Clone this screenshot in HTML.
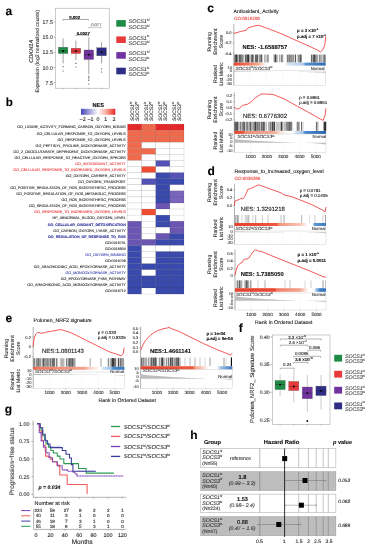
<!DOCTYPE html>
<html><head><meta charset="utf-8"><title>Figure</title>
<style>
html,body{margin:0;padding:0;background:#fff;}
body{width:370px;height:550px;overflow:hidden;}
svg{display:block;font-family:'Liberation Sans', Arial, sans-serif;text-rendering:geometricPrecision;filter:blur(0.25px);}
</style></head><body>
<svg width="370" height="550" viewBox="0 0 370 550">
<rect x="0" y="0" width="370" height="550" fill="#fff"/>
<text x="5.60" y="14.80" font-size="12" font-weight="bold" fill="#000" stroke="#000" stroke-width="0.1">a</text>
<rect x="55.30" y="8.20" width="53.90" height="80.00" fill="none" stroke="#9a9a9a" stroke-width="0.5"/>
<text x="52.90" y="23.90" font-size="5.3" text-anchor="end" fill="#333" stroke="#333" stroke-width="0.1">17.5</text>
<line x1="53.60" y1="22.00" x2="55.30" y2="22.00" stroke="#555" stroke-width="0.4"/>
<text x="52.90" y="39.10" font-size="5.3" text-anchor="end" fill="#333" stroke="#333" stroke-width="0.1">15.0</text>
<line x1="53.60" y1="37.20" x2="55.30" y2="37.20" stroke="#555" stroke-width="0.4"/>
<text x="52.90" y="54.30" font-size="5.3" text-anchor="end" fill="#333" stroke="#333" stroke-width="0.1">12.5</text>
<line x1="53.60" y1="52.40" x2="55.30" y2="52.40" stroke="#555" stroke-width="0.4"/>
<text x="52.90" y="69.50" font-size="5.3" text-anchor="end" fill="#333" stroke="#333" stroke-width="0.1">10.0</text>
<line x1="53.60" y1="67.60" x2="55.30" y2="67.60" stroke="#555" stroke-width="0.4"/>
<text x="52.90" y="84.70" font-size="5.3" text-anchor="end" fill="#333" stroke="#333" stroke-width="0.1">7.5</text>
<line x1="53.60" y1="82.80" x2="55.30" y2="82.80" stroke="#555" stroke-width="0.4"/>
<text x="32.60" y="51.30" font-size="5.7" text-anchor="middle" font-style="italic" fill="#333" transform="rotate(-90 32.6 51.3)" stroke="#333" stroke-width="0.1">CDKN1A</text>
<text x="38.70" y="51.20" font-size="5.1" text-anchor="middle" fill="#333" transform="rotate(-90 38.7 51.2)" stroke="#333" stroke-width="0.1">Expression (log2 normalized counts)</text>
<line x1="63.10" y1="38.50" x2="63.10" y2="47.20" stroke="#8a8a8a" stroke-width="0.8"/>
<line x1="63.10" y1="53.60" x2="63.10" y2="63.40" stroke="#8a8a8a" stroke-width="0.8"/>
<rect x="58.30" y="47.20" width="9.60" height="6.40" fill="#1e8c46" stroke="#555" stroke-width="0.3"/>
<line x1="58.30" y1="51.00" x2="67.90" y2="51.00" stroke="#222" stroke-width="0.4"/>
<circle cx="63.10" cy="51.00" r="0.9" fill="#000"/>
<circle cx="63.10" cy="66.60" r="0.6" fill="#444"/>
<circle cx="63.10" cy="71.00" r="0.6" fill="#444"/>
<line x1="63.10" y1="88.20" x2="63.10" y2="89.50" stroke="#777" stroke-width="0.4"/>
<line x1="75.90" y1="40.70" x2="75.90" y2="48.20" stroke="#8a8a8a" stroke-width="0.8"/>
<line x1="75.90" y1="53.60" x2="75.90" y2="60.00" stroke="#8a8a8a" stroke-width="0.8"/>
<rect x="71.10" y="48.20" width="9.60" height="5.40" fill="#e83a3c" stroke="#555" stroke-width="0.3"/>
<line x1="71.10" y1="51.00" x2="80.70" y2="51.00" stroke="#222" stroke-width="0.4"/>
<circle cx="75.90" cy="51.00" r="0.9" fill="#000"/>
<circle cx="75.90" cy="63.40" r="0.6" fill="#444"/>
<circle cx="75.90" cy="67.00" r="0.6" fill="#444"/>
<line x1="75.90" y1="88.20" x2="75.90" y2="89.50" stroke="#777" stroke-width="0.4"/>
<line x1="88.80" y1="37.40" x2="88.80" y2="50.00" stroke="#8a8a8a" stroke-width="0.8"/>
<line x1="88.80" y1="59.50" x2="88.80" y2="74.20" stroke="#8a8a8a" stroke-width="0.8"/>
<rect x="84.00" y="50.00" width="9.60" height="9.50" fill="#7033a0" stroke="#555" stroke-width="0.3"/>
<line x1="84.00" y1="54.70" x2="93.60" y2="54.70" stroke="#222" stroke-width="0.4"/>
<circle cx="88.80" cy="54.70" r="0.9" fill="#000"/>
<circle cx="88.80" cy="76.00" r="0.6" fill="#444"/>
<circle cx="88.80" cy="77.50" r="0.6" fill="#444"/>
<circle cx="88.80" cy="79.00" r="0.6" fill="#444"/>
<circle cx="88.80" cy="80.50" r="0.6" fill="#444"/>
<circle cx="88.80" cy="84.00" r="0.6" fill="#444"/>
<line x1="88.80" y1="88.20" x2="88.80" y2="89.50" stroke="#777" stroke-width="0.4"/>
<line x1="101.60" y1="42.20" x2="101.60" y2="47.80" stroke="#8a8a8a" stroke-width="0.8"/>
<line x1="101.60" y1="55.80" x2="101.60" y2="63.40" stroke="#8a8a8a" stroke-width="0.8"/>
<rect x="96.80" y="47.80" width="9.60" height="8.00" fill="#2e2d86" stroke="#555" stroke-width="0.3"/>
<line x1="96.80" y1="52.10" x2="106.40" y2="52.10" stroke="#222" stroke-width="0.4"/>
<circle cx="101.60" cy="52.10" r="0.9" fill="#000"/>
<circle cx="101.60" cy="68.80" r="0.6" fill="#444"/>
<circle cx="101.60" cy="72.00" r="0.6" fill="#444"/>
<line x1="101.60" y1="88.20" x2="101.60" y2="89.50" stroke="#777" stroke-width="0.4"/>
<path d="M63.00,20.70 L63.00,19.50 L88.40,19.50 L88.40,20.70" stroke="#444" stroke-width="0.45" fill="none"/>
<text x="74.70" y="19.00" font-size="4.4" text-anchor="middle" font-weight="bold" fill="#000" stroke="#000" stroke-width="0.1">0.002</text>
<path d="M76.00,36.20 L76.00,35.00 L88.40,35.00 L88.40,36.20" stroke="#444" stroke-width="0.45" fill="none"/>
<text x="83.30" y="34.50" font-size="4.3" text-anchor="middle" font-weight="bold" fill="#000" stroke="#000" stroke-width="0.1">0.0027</text>
<path d="M88.80,28.50 L88.80,27.30 L101.20,27.30 L101.20,28.50" stroke="#777" stroke-width="0.45" fill="none"/>
<text x="96.30" y="26.20" font-size="4.1" text-anchor="middle" fill="#666" stroke="#666" stroke-width="0.1">0.077</text>
<rect x="116.30" y="20.10" width="9.50" height="6.60" fill="#1e8c46" stroke="none" stroke-width="0.5"/>
<text x="128.60" y="23.20" font-size="5.4" font-style="italic" fill="#484848" stroke="#484848" stroke-width="0.1">SOCS1<tspan font-size="3.24" dy="-2.16">hi</tspan></text>
<text x="128.60" y="28.70" font-size="5.4" font-style="italic" fill="#484848" stroke="#484848" stroke-width="0.1">SOCS3<tspan font-size="3.24" dy="-2.16">hi</tspan></text>
<rect x="116.30" y="36.40" width="9.50" height="6.60" fill="#e83a3c" stroke="none" stroke-width="0.5"/>
<text x="128.60" y="39.50" font-size="5.4" font-style="italic" fill="#484848" stroke="#484848" stroke-width="0.1">SOCS1<tspan font-size="3.24" dy="-2.16">lo</tspan></text>
<text x="128.60" y="45.00" font-size="5.4" font-style="italic" fill="#484848" stroke="#484848" stroke-width="0.1">SOCS3<tspan font-size="3.24" dy="-2.16">hi</tspan></text>
<rect x="116.30" y="52.10" width="9.50" height="6.60" fill="#7033a0" stroke="none" stroke-width="0.5"/>
<text x="128.60" y="55.20" font-size="5.4" font-style="italic" fill="#484848" stroke="#484848" stroke-width="0.1">SOCS1<tspan font-size="3.24" dy="-2.16">hi</tspan></text>
<text x="128.60" y="60.70" font-size="5.4" font-style="italic" fill="#484848" stroke="#484848" stroke-width="0.1">SOCS3<tspan font-size="3.24" dy="-2.16">lo</tspan></text>
<rect x="116.30" y="67.70" width="9.50" height="6.60" fill="#2e2d86" stroke="none" stroke-width="0.5"/>
<text x="128.60" y="70.80" font-size="5.4" font-style="italic" fill="#484848" stroke="#484848" stroke-width="0.1">SOCS1<tspan font-size="3.24" dy="-2.16">lo</tspan></text>
<text x="128.60" y="76.30" font-size="5.4" font-style="italic" fill="#484848" stroke="#484848" stroke-width="0.1">SOCS3<tspan font-size="3.24" dy="-2.16">lo</tspan></text>
<text x="5.80" y="105.80" font-size="11.6" font-weight="bold" fill="#000" stroke="#000" stroke-width="0.1">b</text>
<text x="98.30" y="106.60" font-size="5.6" text-anchor="middle" font-weight="bold" fill="#000" stroke="#000" stroke-width="0.1">NES</text>
<defs><linearGradient id="nesg" x1="0" x2="1" y1="0" y2="0"><stop offset="0" stop-color="#4446b8"/><stop offset="0.25" stop-color="#a6a2da"/><stop offset="0.5" stop-color="#ffffff"/><stop offset="0.75" stop-color="#f7a494"/><stop offset="1" stop-color="#e8262a"/></linearGradient></defs>
<rect x="81.00" y="108.80" width="34.30" height="6.00" fill="url(#nesg)" stroke="none" stroke-width="0.5"/>
<text x="82.60" y="120.80" font-size="5.3" text-anchor="middle" fill="#222" stroke="#222" stroke-width="0.1">−2</text>
<text x="90.40" y="120.80" font-size="5.3" text-anchor="middle" fill="#222" stroke="#222" stroke-width="0.1">−1</text>
<text x="97.90" y="120.80" font-size="5.3" text-anchor="middle" fill="#222" stroke="#222" stroke-width="0.1">0</text>
<text x="105.80" y="120.80" font-size="5.3" text-anchor="middle" fill="#222" stroke="#222" stroke-width="0.1">1</text>
<text x="113.90" y="120.80" font-size="5.3" text-anchor="middle" fill="#222" stroke="#222" stroke-width="0.1">2</text>
<text x="133.90" y="121.10" font-size="5" font-style="italic" fill="#333" transform="rotate(-90 133.90 121.10)" stroke="#333" stroke-width="0.1">SOCS1<tspan font-size="3.1" dy="-2.0">hi</tspan></text>
<text x="139.10" y="121.10" font-size="5" font-style="italic" fill="#333" transform="rotate(-90 139.10 121.10)" stroke="#333" stroke-width="0.1">SOCS3<tspan font-size="3.1" dy="-2.0">hi</tspan></text>
<text x="148.00" y="121.10" font-size="5" font-style="italic" fill="#333" transform="rotate(-90 148.00 121.10)" stroke="#333" stroke-width="0.1">SOCS1<tspan font-size="3.1" dy="-2.0">lo</tspan></text>
<text x="153.20" y="121.10" font-size="5" font-style="italic" fill="#333" transform="rotate(-90 153.20 121.10)" stroke="#333" stroke-width="0.1">SOCS3<tspan font-size="3.1" dy="-2.0">hi</tspan></text>
<text x="162.10" y="121.10" font-size="5" font-style="italic" fill="#333" transform="rotate(-90 162.10 121.10)" stroke="#333" stroke-width="0.1">SOCS1<tspan font-size="3.1" dy="-2.0">hi</tspan></text>
<text x="167.30" y="121.10" font-size="5" font-style="italic" fill="#333" transform="rotate(-90 167.30 121.10)" stroke="#333" stroke-width="0.1">SOCS3<tspan font-size="3.1" dy="-2.0">lo</tspan></text>
<text x="176.20" y="121.10" font-size="5" font-style="italic" fill="#333" transform="rotate(-90 176.20 121.10)" stroke="#333" stroke-width="0.1">SOCS1<tspan font-size="3.1" dy="-2.0">lo</tspan></text>
<text x="181.40" y="121.10" font-size="5" font-style="italic" fill="#333" transform="rotate(-90 181.40 121.10)" stroke="#333" stroke-width="0.1">SOCS3<tspan font-size="3.1" dy="-2.0">lo</tspan></text>
<text x="125.80" y="128.44" font-size="3.65" text-anchor="end" fill="#2a2a2a" stroke="#2a2a2a" stroke-width="0.1">GO_LIGASE_ACTIVITY_FORMING_CARBON_OXYGEN_BONDS</text>
<rect x="127.60" y="124.10" width="14.10" height="6.07" fill="#e3282a" stroke="#000" stroke-width="0.4" stroke-opacity="0.2"/>
<rect x="141.70" y="124.10" width="14.10" height="6.07" fill="#ef6a4c" stroke="#000" stroke-width="0.4" stroke-opacity="0.2"/>
<rect x="155.80" y="124.10" width="14.10" height="6.07" fill="#e3282a" stroke="#000" stroke-width="0.4" stroke-opacity="0.2"/>
<rect x="169.90" y="124.10" width="14.10" height="6.07" fill="#e3282a" stroke="#000" stroke-width="0.4" stroke-opacity="0.2"/>
<text x="125.80" y="134.50" font-size="3.65" text-anchor="end" fill="#2a2a2a" stroke="#2a2a2a" stroke-width="0.1">GO_CELLULAR_RESPONSE_TO_OXYGEN_LEVELS</text>
<rect x="127.60" y="130.17" width="14.10" height="6.07" fill="#ef6a4c" stroke="#000" stroke-width="0.4" stroke-opacity="0.2"/>
<rect x="141.70" y="130.17" width="14.10" height="6.07" fill="#ef6a4c" stroke="#000" stroke-width="0.4" stroke-opacity="0.2"/>
<rect x="155.80" y="130.17" width="14.10" height="6.07" fill="#ef6a4c" stroke="#000" stroke-width="0.4" stroke-opacity="0.2"/>
<rect x="169.90" y="130.17" width="14.10" height="6.07" fill="#ef6a4c" stroke="#000" stroke-width="0.4" stroke-opacity="0.2"/>
<text x="125.80" y="140.58" font-size="3.65" text-anchor="end" fill="#2a2a2a" stroke="#2a2a2a" stroke-width="0.1">GO_RESPONSE_TO_OXYGEN_LEVELS</text>
<rect x="127.60" y="136.24" width="14.10" height="6.07" fill="#ef6a4c" stroke="#000" stroke-width="0.4" stroke-opacity="0.2"/>
<rect x="141.70" y="136.24" width="14.10" height="6.07" fill="#ef6a4c" stroke="#000" stroke-width="0.4" stroke-opacity="0.2"/>
<rect x="155.80" y="136.24" width="14.10" height="6.07" fill="#ef6a4c" stroke="#000" stroke-width="0.4" stroke-opacity="0.2"/>
<rect x="169.90" y="136.24" width="14.10" height="6.07" fill="#ef6a4c" stroke="#000" stroke-width="0.4" stroke-opacity="0.2"/>
<text x="125.80" y="146.65" font-size="3.65" text-anchor="end" fill="#2a2a2a" stroke="#2a2a2a" stroke-width="0.1">GO_PEPTIDYL_PROLINE_DIOXYGENASE_ACTIVITY</text>
<rect x="127.60" y="142.31" width="14.10" height="6.07" fill="#ef6a4c" stroke="#000" stroke-width="0.4" stroke-opacity="0.2"/>
<rect x="141.70" y="142.31" width="14.10" height="6.07" fill="#ffffff" stroke="#000" stroke-width="0.4" stroke-opacity="0.2"/>
<rect x="155.80" y="142.31" width="14.10" height="6.07" fill="#ffffff" stroke="#000" stroke-width="0.4" stroke-opacity="0.2"/>
<rect x="169.90" y="142.31" width="14.10" height="6.07" fill="#ffffff" stroke="#000" stroke-width="0.4" stroke-opacity="0.2"/>
<text x="125.80" y="152.72" font-size="3.65" text-anchor="end" fill="#2a2a2a" stroke="#2a2a2a" stroke-width="0.1">GO_2_OXOGLUTARATE_DEPENDENT_DIOXYGENASE_ACTIVITY</text>
<rect x="127.60" y="148.38" width="14.10" height="6.07" fill="#ef6a4c" stroke="#000" stroke-width="0.4" stroke-opacity="0.2"/>
<rect x="141.70" y="148.38" width="14.10" height="6.07" fill="#ef6a4c" stroke="#000" stroke-width="0.4" stroke-opacity="0.2"/>
<rect x="155.80" y="148.38" width="14.10" height="6.07" fill="#ffffff" stroke="#000" stroke-width="0.4" stroke-opacity="0.2"/>
<rect x="169.90" y="148.38" width="14.10" height="6.07" fill="#ffffff" stroke="#000" stroke-width="0.4" stroke-opacity="0.2"/>
<text x="125.80" y="158.79" font-size="3.65" text-anchor="end" fill="#2a2a2a" stroke="#2a2a2a" stroke-width="0.1">GO_CELLULAR_RESPONSE_TO_REACTIVE_OXYGEN_SPECIES</text>
<rect x="127.60" y="154.45" width="14.10" height="6.07" fill="#ef6a4c" stroke="#000" stroke-width="0.4" stroke-opacity="0.2"/>
<rect x="141.70" y="154.45" width="14.10" height="6.07" fill="#ffffff" stroke="#000" stroke-width="0.4" stroke-opacity="0.2"/>
<rect x="155.80" y="154.45" width="14.10" height="6.07" fill="#ffffff" stroke="#000" stroke-width="0.4" stroke-opacity="0.2"/>
<rect x="169.90" y="154.45" width="14.10" height="6.07" fill="#ffffff" stroke="#000" stroke-width="0.4" stroke-opacity="0.2"/>
<text x="125.80" y="164.86" font-size="3.65" text-anchor="end" fill="#e8383a" stroke="#e8383a" stroke-width="0.1">GO_ANTIOXIDANT_ACTIVITY</text>
<rect x="127.60" y="160.52" width="14.10" height="6.07" fill="#ffffff" stroke="#000" stroke-width="0.4" stroke-opacity="0.2"/>
<rect x="141.70" y="160.52" width="14.10" height="6.07" fill="#ffffff" stroke="#000" stroke-width="0.4" stroke-opacity="0.2"/>
<rect x="155.80" y="160.52" width="14.10" height="6.07" fill="#5452b4" stroke="#000" stroke-width="0.4" stroke-opacity="0.2"/>
<rect x="169.90" y="160.52" width="14.10" height="6.07" fill="#ffffff" stroke="#000" stroke-width="0.4" stroke-opacity="0.2"/>
<text x="125.80" y="170.93" font-size="3.65" text-anchor="end" fill="#e8383a" stroke="#e8383a" stroke-width="0.1">GO_CELLULAR_RESPONSE_TO_INCREASED_OXYGEN_LEVELS</text>
<rect x="127.60" y="166.59" width="14.10" height="6.07" fill="#ffffff" stroke="#000" stroke-width="0.4" stroke-opacity="0.2"/>
<rect x="141.70" y="166.59" width="14.10" height="6.07" fill="#ee4b30" stroke="#000" stroke-width="0.4" stroke-opacity="0.2"/>
<rect x="155.80" y="166.59" width="14.10" height="6.07" fill="#ffffff" stroke="#000" stroke-width="0.4" stroke-opacity="0.2"/>
<rect x="169.90" y="166.59" width="14.10" height="6.07" fill="#ffffff" stroke="#000" stroke-width="0.4" stroke-opacity="0.2"/>
<text x="125.80" y="177.00" font-size="3.65" text-anchor="end" fill="#2a2a2a" stroke="#2a2a2a" stroke-width="0.1">GO_OXYGEN_CARRIER_ACTIVITY</text>
<rect x="127.60" y="172.66" width="14.10" height="6.07" fill="#ffffff" stroke="#000" stroke-width="0.4" stroke-opacity="0.2"/>
<rect x="141.70" y="172.66" width="14.10" height="6.07" fill="#ffffff" stroke="#000" stroke-width="0.4" stroke-opacity="0.2"/>
<rect x="155.80" y="172.66" width="14.10" height="6.07" fill="#3a4aac" stroke="#000" stroke-width="0.4" stroke-opacity="0.2"/>
<rect x="169.90" y="172.66" width="14.10" height="6.07" fill="#5452b4" stroke="#000" stroke-width="0.4" stroke-opacity="0.2"/>
<text x="125.80" y="183.06" font-size="3.65" text-anchor="end" fill="#2a2a2a" stroke="#2a2a2a" stroke-width="0.1">GO_OXYGEN_TRANSPORT</text>
<rect x="127.60" y="178.73" width="14.10" height="6.07" fill="#ffffff" stroke="#000" stroke-width="0.4" stroke-opacity="0.2"/>
<rect x="141.70" y="178.73" width="14.10" height="6.07" fill="#5452b4" stroke="#000" stroke-width="0.4" stroke-opacity="0.2"/>
<rect x="155.80" y="178.73" width="14.10" height="6.07" fill="#3a4aac" stroke="#000" stroke-width="0.4" stroke-opacity="0.2"/>
<rect x="169.90" y="178.73" width="14.10" height="6.07" fill="#3a4aac" stroke="#000" stroke-width="0.4" stroke-opacity="0.2"/>
<text x="125.80" y="189.13" font-size="3.65" text-anchor="end" fill="#2a2a2a" stroke="#2a2a2a" stroke-width="0.1">GO_POSITIVE_REGULATION_OF_ROS_BIOSYNTHETIC_PROCESS</text>
<rect x="127.60" y="184.80" width="14.10" height="6.07" fill="#ffffff" stroke="#000" stroke-width="0.4" stroke-opacity="0.2"/>
<rect x="141.70" y="184.80" width="14.10" height="6.07" fill="#ffffff" stroke="#000" stroke-width="0.4" stroke-opacity="0.2"/>
<rect x="155.80" y="184.80" width="14.10" height="6.07" fill="#3a4aac" stroke="#000" stroke-width="0.4" stroke-opacity="0.2"/>
<rect x="169.90" y="184.80" width="14.10" height="6.07" fill="#ffffff" stroke="#000" stroke-width="0.4" stroke-opacity="0.2"/>
<text x="125.80" y="195.21" font-size="3.65" text-anchor="end" fill="#2a2a2a" stroke="#2a2a2a" stroke-width="0.1">GO_POSITIVE_REGULATION_OF_ROS_METABOLIC_PROCESS</text>
<rect x="127.60" y="190.87" width="14.10" height="6.07" fill="#ffffff" stroke="#000" stroke-width="0.4" stroke-opacity="0.2"/>
<rect x="141.70" y="190.87" width="14.10" height="6.07" fill="#ffffff" stroke="#000" stroke-width="0.4" stroke-opacity="0.2"/>
<rect x="155.80" y="190.87" width="14.10" height="6.07" fill="#3a4aac" stroke="#000" stroke-width="0.4" stroke-opacity="0.2"/>
<rect x="169.90" y="190.87" width="14.10" height="6.07" fill="#7a66bc" stroke="#000" stroke-width="0.4" stroke-opacity="0.2"/>
<text x="125.80" y="201.28" font-size="3.65" text-anchor="end" fill="#2a2a2a" stroke="#2a2a2a" stroke-width="0.1">GO_ROS_BIOSYNTHETIC_PROCESS</text>
<rect x="127.60" y="196.94" width="14.10" height="6.07" fill="#ffffff" stroke="#000" stroke-width="0.4" stroke-opacity="0.2"/>
<rect x="141.70" y="196.94" width="14.10" height="6.07" fill="#ffffff" stroke="#000" stroke-width="0.4" stroke-opacity="0.2"/>
<rect x="155.80" y="196.94" width="14.10" height="6.07" fill="#3a4aac" stroke="#000" stroke-width="0.4" stroke-opacity="0.2"/>
<rect x="169.90" y="196.94" width="14.10" height="6.07" fill="#7a66bc" stroke="#000" stroke-width="0.4" stroke-opacity="0.2"/>
<text x="125.80" y="207.35" font-size="3.65" text-anchor="end" fill="#2a2a2a" stroke="#2a2a2a" stroke-width="0.1">GO_REGULATION_OF_ROS_BIOSYNTHETIC_PROCESS</text>
<rect x="127.60" y="203.01" width="14.10" height="6.07" fill="#ffffff" stroke="#000" stroke-width="0.4" stroke-opacity="0.2"/>
<rect x="141.70" y="203.01" width="14.10" height="6.07" fill="#ffffff" stroke="#000" stroke-width="0.4" stroke-opacity="0.2"/>
<rect x="155.80" y="203.01" width="14.10" height="6.07" fill="#6a55b2" stroke="#000" stroke-width="0.4" stroke-opacity="0.2"/>
<rect x="169.90" y="203.01" width="14.10" height="6.07" fill="#ffffff" stroke="#000" stroke-width="0.4" stroke-opacity="0.2"/>
<text x="125.80" y="213.42" font-size="3.65" text-anchor="end" fill="#e8383a" stroke="#e8383a" stroke-width="0.1">GO_RESPONSE_TO_INCREASED_OXYGEN_LEVELS</text>
<rect x="127.60" y="209.08" width="14.10" height="6.07" fill="#ffffff" stroke="#000" stroke-width="0.4" stroke-opacity="0.2"/>
<rect x="141.70" y="209.08" width="14.10" height="6.07" fill="#ee4b30" stroke="#000" stroke-width="0.4" stroke-opacity="0.2"/>
<rect x="155.80" y="209.08" width="14.10" height="6.07" fill="#ffffff" stroke="#000" stroke-width="0.4" stroke-opacity="0.2"/>
<rect x="169.90" y="209.08" width="14.10" height="6.07" fill="#ffffff" stroke="#000" stroke-width="0.4" stroke-opacity="0.2"/>
<text x="125.80" y="219.49" font-size="3.65" text-anchor="end" fill="#2a2a2a" stroke="#2a2a2a" stroke-width="0.1">HP_ABNORMAL_BLOOD_OXYGEN_LEVEL</text>
<rect x="127.60" y="215.15" width="14.10" height="6.07" fill="#ffffff" stroke="#000" stroke-width="0.4" stroke-opacity="0.2"/>
<rect x="141.70" y="215.15" width="14.10" height="6.07" fill="#ffffff" stroke="#000" stroke-width="0.4" stroke-opacity="0.2"/>
<rect x="155.80" y="215.15" width="14.10" height="6.07" fill="#3a4aac" stroke="#000" stroke-width="0.4" stroke-opacity="0.2"/>
<rect x="169.90" y="215.15" width="14.10" height="6.07" fill="#ffffff" stroke="#000" stroke-width="0.4" stroke-opacity="0.2"/>
<text x="125.80" y="225.56" font-size="3.65" text-anchor="end" font-weight="bold" fill="#2b2f9a" stroke="#2b2f9a" stroke-width="0.1">GO_CELLULAR_OXIDANT_DETOXIFICATION</text>
<rect x="127.60" y="221.22" width="14.10" height="6.07" fill="#6a55b2" stroke="#000" stroke-width="0.4" stroke-opacity="0.2"/>
<rect x="141.70" y="221.22" width="14.10" height="6.07" fill="#ffffff" stroke="#000" stroke-width="0.4" stroke-opacity="0.2"/>
<rect x="155.80" y="221.22" width="14.10" height="6.07" fill="#3a4aac" stroke="#000" stroke-width="0.4" stroke-opacity="0.2"/>
<rect x="169.90" y="221.22" width="14.10" height="6.07" fill="#6a55b2" stroke="#000" stroke-width="0.4" stroke-opacity="0.2"/>
<text x="125.80" y="231.62" font-size="3.65" text-anchor="end" fill="#2a2a2a" stroke="#2a2a2a" stroke-width="0.1">GO_CARBON_OXYGEN_LYASE_ACTIVITY</text>
<rect x="127.60" y="227.29" width="14.10" height="6.07" fill="#6a55b2" stroke="#000" stroke-width="0.4" stroke-opacity="0.2"/>
<rect x="141.70" y="227.29" width="14.10" height="6.07" fill="#ffffff" stroke="#000" stroke-width="0.4" stroke-opacity="0.2"/>
<rect x="155.80" y="227.29" width="14.10" height="6.07" fill="#ffffff" stroke="#000" stroke-width="0.4" stroke-opacity="0.2"/>
<rect x="169.90" y="227.29" width="14.10" height="6.07" fill="#6a55b2" stroke="#000" stroke-width="0.4" stroke-opacity="0.2"/>
<text x="125.80" y="237.69" font-size="3.65" text-anchor="end" font-weight="bold" fill="#2b2f9a" stroke="#2b2f9a" stroke-width="0.1">GO_REGULATION_OF_RESPONSE_TO_ROS</text>
<rect x="127.60" y="233.36" width="14.10" height="6.07" fill="#6a55b2" stroke="#000" stroke-width="0.4" stroke-opacity="0.2"/>
<rect x="141.70" y="233.36" width="14.10" height="6.07" fill="#ffffff" stroke="#000" stroke-width="0.4" stroke-opacity="0.2"/>
<rect x="155.80" y="233.36" width="14.10" height="6.07" fill="#6a55b2" stroke="#000" stroke-width="0.4" stroke-opacity="0.2"/>
<rect x="169.90" y="233.36" width="14.10" height="6.07" fill="#3a4aac" stroke="#000" stroke-width="0.4" stroke-opacity="0.2"/>
<text x="125.80" y="243.77" font-size="3.65" text-anchor="end" fill="#2a2a2a" stroke="#2a2a2a" stroke-width="0.1">GO:0016701</text>
<rect x="127.60" y="239.43" width="14.10" height="6.07" fill="#6a55b2" stroke="#000" stroke-width="0.4" stroke-opacity="0.2"/>
<rect x="141.70" y="239.43" width="14.10" height="6.07" fill="#6a55b2" stroke="#000" stroke-width="0.4" stroke-opacity="0.2"/>
<rect x="155.80" y="239.43" width="14.10" height="6.07" fill="#3a4aac" stroke="#000" stroke-width="0.4" stroke-opacity="0.2"/>
<rect x="169.90" y="239.43" width="14.10" height="6.07" fill="#3a4aac" stroke="#000" stroke-width="0.4" stroke-opacity="0.2"/>
<text x="125.80" y="249.84" font-size="3.65" text-anchor="end" fill="#2a2a2a" stroke="#2a2a2a" stroke-width="0.1">GO:0016804</text>
<rect x="127.60" y="245.50" width="14.10" height="6.07" fill="#3a4aac" stroke="#000" stroke-width="0.4" stroke-opacity="0.2"/>
<rect x="141.70" y="245.50" width="14.10" height="6.07" fill="#ffffff" stroke="#000" stroke-width="0.4" stroke-opacity="0.2"/>
<rect x="155.80" y="245.50" width="14.10" height="6.07" fill="#ffffff" stroke="#000" stroke-width="0.4" stroke-opacity="0.2"/>
<rect x="169.90" y="245.50" width="14.10" height="6.07" fill="#ffffff" stroke="#000" stroke-width="0.4" stroke-opacity="0.2"/>
<text x="125.80" y="255.91" font-size="3.65" text-anchor="end" fill="#3d44b0" stroke="#3d44b0" stroke-width="0.1">GO_OXYGEN_BINDING</text>
<rect x="127.60" y="251.57" width="14.10" height="6.07" fill="#3a4aac" stroke="#000" stroke-width="0.4" stroke-opacity="0.2"/>
<rect x="141.70" y="251.57" width="14.10" height="6.07" fill="#ffffff" stroke="#000" stroke-width="0.4" stroke-opacity="0.2"/>
<rect x="155.80" y="251.57" width="14.10" height="6.07" fill="#3a4aac" stroke="#000" stroke-width="0.4" stroke-opacity="0.2"/>
<rect x="169.90" y="251.57" width="14.10" height="6.07" fill="#3a4aac" stroke="#000" stroke-width="0.4" stroke-opacity="0.2"/>
<text x="125.80" y="261.98" font-size="3.65" text-anchor="end" fill="#2a2a2a" stroke="#2a2a2a" stroke-width="0.1">GO:0016709</text>
<rect x="127.60" y="257.64" width="14.10" height="6.07" fill="#3a4aac" stroke="#000" stroke-width="0.4" stroke-opacity="0.2"/>
<rect x="141.70" y="257.64" width="14.10" height="6.07" fill="#ffffff" stroke="#000" stroke-width="0.4" stroke-opacity="0.2"/>
<rect x="155.80" y="257.64" width="14.10" height="6.07" fill="#3a4aac" stroke="#000" stroke-width="0.4" stroke-opacity="0.2"/>
<rect x="169.90" y="257.64" width="14.10" height="6.07" fill="#3a4aac" stroke="#000" stroke-width="0.4" stroke-opacity="0.2"/>
<text x="125.80" y="268.05" font-size="3.65" text-anchor="end" fill="#2a2a2a" stroke="#2a2a2a" stroke-width="0.1">GO_ARACHIDONIC_ACID_EPOXYGENASE_ACTIVITY</text>
<rect x="127.60" y="263.71" width="14.10" height="6.07" fill="#3a4aac" stroke="#000" stroke-width="0.4" stroke-opacity="0.2"/>
<rect x="141.70" y="263.71" width="14.10" height="6.07" fill="#3a4aac" stroke="#000" stroke-width="0.4" stroke-opacity="0.2"/>
<rect x="155.80" y="263.71" width="14.10" height="6.07" fill="#3a4aac" stroke="#000" stroke-width="0.4" stroke-opacity="0.2"/>
<rect x="169.90" y="263.71" width="14.10" height="6.07" fill="#3a4aac" stroke="#000" stroke-width="0.4" stroke-opacity="0.2"/>
<text x="125.80" y="274.12" font-size="3.65" text-anchor="end" fill="#3d44b0" stroke="#3d44b0" stroke-width="0.1">GO_MONOOXYGENASE_ACTIVITY</text>
<rect x="127.60" y="269.78" width="14.10" height="6.07" fill="#3a4aac" stroke="#000" stroke-width="0.4" stroke-opacity="0.2"/>
<rect x="141.70" y="269.78" width="14.10" height="6.07" fill="#ffffff" stroke="#000" stroke-width="0.4" stroke-opacity="0.2"/>
<rect x="155.80" y="269.78" width="14.10" height="6.07" fill="#3a4aac" stroke="#000" stroke-width="0.4" stroke-opacity="0.2"/>
<rect x="169.90" y="269.78" width="14.10" height="6.07" fill="#3a4aac" stroke="#000" stroke-width="0.4" stroke-opacity="0.2"/>
<text x="125.80" y="280.19" font-size="3.65" text-anchor="end" fill="#2a2a2a" stroke="#2a2a2a" stroke-width="0.1">GO_EPOXYGENASE_P450_PATHWAY</text>
<rect x="127.60" y="275.85" width="14.10" height="6.07" fill="#3a4aac" stroke="#000" stroke-width="0.4" stroke-opacity="0.2"/>
<rect x="141.70" y="275.85" width="14.10" height="6.07" fill="#3a4aac" stroke="#000" stroke-width="0.4" stroke-opacity="0.2"/>
<rect x="155.80" y="275.85" width="14.10" height="6.07" fill="#3a4aac" stroke="#000" stroke-width="0.4" stroke-opacity="0.2"/>
<rect x="169.90" y="275.85" width="14.10" height="6.07" fill="#3a4aac" stroke="#000" stroke-width="0.4" stroke-opacity="0.2"/>
<text x="125.80" y="286.26" font-size="3.65" text-anchor="end" fill="#2a2a2a" stroke="#2a2a2a" stroke-width="0.1">GO_ARACHIDONIC_ACID_MONOOXYGENASE_ACTIVITY</text>
<rect x="127.60" y="281.92" width="14.10" height="6.07" fill="#3a4aac" stroke="#000" stroke-width="0.4" stroke-opacity="0.2"/>
<rect x="141.70" y="281.92" width="14.10" height="6.07" fill="#3a4aac" stroke="#000" stroke-width="0.4" stroke-opacity="0.2"/>
<rect x="155.80" y="281.92" width="14.10" height="6.07" fill="#3a4aac" stroke="#000" stroke-width="0.4" stroke-opacity="0.2"/>
<rect x="169.90" y="281.92" width="14.10" height="6.07" fill="#3a4aac" stroke="#000" stroke-width="0.4" stroke-opacity="0.2"/>
<text x="125.80" y="292.32" font-size="3.65" text-anchor="end" fill="#2a2a2a" stroke="#2a2a2a" stroke-width="0.1">GO:0016712</text>
<rect x="127.60" y="287.99" width="14.10" height="6.07" fill="#3a4aac" stroke="#000" stroke-width="0.4" stroke-opacity="0.2"/>
<rect x="141.70" y="287.99" width="14.10" height="6.07" fill="#ffffff" stroke="#000" stroke-width="0.4" stroke-opacity="0.2"/>
<rect x="155.80" y="287.99" width="14.10" height="6.07" fill="#3a4aac" stroke="#000" stroke-width="0.4" stroke-opacity="0.2"/>
<rect x="169.90" y="287.99" width="14.10" height="6.07" fill="#3a4aac" stroke="#000" stroke-width="0.4" stroke-opacity="0.2"/>
<line x1="233.80" y1="24.00" x2="233.80" y2="85.30" stroke="#555" stroke-width="0.45"/>
<text x="231.50" y="33.80" font-size="4.0" text-anchor="end" fill="#333" stroke="#333" stroke-width="0.1">0.0</text>
<line x1="232.50" y1="32.50" x2="233.80" y2="32.50" stroke="#555" stroke-width="0.35"/>
<text x="231.50" y="44.30" font-size="4.0" text-anchor="end" fill="#333" stroke="#333" stroke-width="0.1">-0.2</text>
<line x1="232.50" y1="43.00" x2="233.80" y2="43.00" stroke="#555" stroke-width="0.35"/>
<text x="231.50" y="54.70" font-size="4.0" text-anchor="end" fill="#333" stroke="#333" stroke-width="0.1">-0.4</text>
<line x1="232.50" y1="53.40" x2="233.80" y2="53.40" stroke="#555" stroke-width="0.35"/>
<path d="M233.80,33.50 L240.80,31.40 L246.20,30.30 L247.60,28.10 L251.60,26.80 L257.00,25.40 L259.20,25.40 L270.50,29.50 L284.00,34.90 L297.60,41.10 L311.00,47.00 L317.80,50.30 L320.50,51.90 L322.40,50.30 L324.60,45.70 L325.40,40.00 L325.70,36.20" stroke="#ee3b3b" stroke-width="0.85" fill="none"/>
<text x="242.50" y="49.10" font-size="5.8" font-weight="bold" fill="#111" stroke="#111" stroke-width="0.1">NES: -1.6588757</text>
<text x="297.00" y="31.60" font-size="4.4" font-weight="bold" fill="#111" stroke="#111" stroke-width="0.1">p = 3 ×10<tspan font-size="2.6" dy="-1.7">-4</tspan></text>
<text x="297.00" y="37.80" font-size="4.4" font-weight="bold" fill="#111" stroke="#111" stroke-width="0.1"><tspan dy="0">p.adj = 7 ×10</tspan><tspan font-size="2.6" dy="-1.7">-4</tspan></text>
<line x1="234.51" y1="54.60" x2="234.51" y2="62.50" stroke="#000" stroke-width="0.45" stroke-opacity="0.57"/>
<line x1="234.91" y1="54.60" x2="234.91" y2="62.50" stroke="#000" stroke-width="0.45" stroke-opacity="0.64"/>
<line x1="235.33" y1="54.60" x2="235.33" y2="62.50" stroke="#000" stroke-width="0.45" stroke-opacity="0.85"/>
<line x1="235.65" y1="54.60" x2="235.65" y2="62.50" stroke="#000" stroke-width="0.45" stroke-opacity="0.58"/>
<line x1="236.14" y1="54.60" x2="236.14" y2="62.50" stroke="#000" stroke-width="0.45" stroke-opacity="0.60"/>
<line x1="236.15" y1="54.60" x2="236.15" y2="62.50" stroke="#000" stroke-width="0.45" stroke-opacity="0.65"/>
<line x1="236.43" y1="54.60" x2="236.43" y2="62.50" stroke="#000" stroke-width="0.45" stroke-opacity="0.41"/>
<line x1="236.51" y1="54.60" x2="236.51" y2="62.50" stroke="#000" stroke-width="0.45" stroke-opacity="0.61"/>
<line x1="236.90" y1="54.60" x2="236.90" y2="62.50" stroke="#000" stroke-width="0.45" stroke-opacity="0.68"/>
<line x1="236.99" y1="54.60" x2="236.99" y2="62.50" stroke="#000" stroke-width="0.45" stroke-opacity="0.78"/>
<line x1="237.09" y1="54.60" x2="237.09" y2="62.50" stroke="#000" stroke-width="0.45" stroke-opacity="0.36"/>
<line x1="237.28" y1="54.60" x2="237.28" y2="62.50" stroke="#000" stroke-width="0.45" stroke-opacity="0.48"/>
<line x1="237.74" y1="54.60" x2="237.74" y2="62.50" stroke="#000" stroke-width="0.45" stroke-opacity="0.35"/>
<line x1="238.83" y1="54.60" x2="238.83" y2="62.50" stroke="#000" stroke-width="0.45" stroke-opacity="0.79"/>
<line x1="239.39" y1="54.60" x2="239.39" y2="62.50" stroke="#000" stroke-width="0.45" stroke-opacity="0.72"/>
<line x1="239.58" y1="54.60" x2="239.58" y2="62.50" stroke="#000" stroke-width="0.45" stroke-opacity="0.33"/>
<line x1="239.73" y1="54.60" x2="239.73" y2="62.50" stroke="#000" stroke-width="0.45" stroke-opacity="0.89"/>
<line x1="240.27" y1="54.60" x2="240.27" y2="62.50" stroke="#000" stroke-width="0.45" stroke-opacity="0.88"/>
<line x1="240.82" y1="54.60" x2="240.82" y2="62.50" stroke="#000" stroke-width="0.45" stroke-opacity="0.69"/>
<line x1="241.15" y1="54.60" x2="241.15" y2="62.50" stroke="#000" stroke-width="0.45" stroke-opacity="0.67"/>
<line x1="241.28" y1="54.60" x2="241.28" y2="62.50" stroke="#000" stroke-width="0.45" stroke-opacity="0.39"/>
<line x1="241.92" y1="54.60" x2="241.92" y2="62.50" stroke="#000" stroke-width="0.45" stroke-opacity="0.31"/>
<line x1="242.15" y1="54.60" x2="242.15" y2="62.50" stroke="#000" stroke-width="0.45" stroke-opacity="0.62"/>
<line x1="242.45" y1="54.60" x2="242.45" y2="62.50" stroke="#000" stroke-width="0.45" stroke-opacity="0.34"/>
<line x1="242.84" y1="54.60" x2="242.84" y2="62.50" stroke="#000" stroke-width="0.45" stroke-opacity="0.41"/>
<line x1="243.17" y1="54.60" x2="243.17" y2="62.50" stroke="#000" stroke-width="0.45" stroke-opacity="0.45"/>
<line x1="243.65" y1="54.60" x2="243.65" y2="62.50" stroke="#000" stroke-width="0.45" stroke-opacity="0.32"/>
<line x1="245.13" y1="54.60" x2="245.13" y2="62.50" stroke="#000" stroke-width="0.45" stroke-opacity="0.58"/>
<line x1="245.43" y1="54.60" x2="245.43" y2="62.50" stroke="#000" stroke-width="0.45" stroke-opacity="0.56"/>
<line x1="245.51" y1="54.60" x2="245.51" y2="62.50" stroke="#000" stroke-width="0.45" stroke-opacity="0.81"/>
<line x1="246.61" y1="54.60" x2="246.61" y2="62.50" stroke="#000" stroke-width="0.45" stroke-opacity="0.61"/>
<line x1="246.94" y1="54.60" x2="246.94" y2="62.50" stroke="#000" stroke-width="0.45" stroke-opacity="0.68"/>
<line x1="247.08" y1="54.60" x2="247.08" y2="62.50" stroke="#000" stroke-width="0.45" stroke-opacity="0.60"/>
<line x1="247.26" y1="54.60" x2="247.26" y2="62.50" stroke="#000" stroke-width="0.45" stroke-opacity="0.70"/>
<line x1="247.31" y1="54.60" x2="247.31" y2="62.50" stroke="#000" stroke-width="0.45" stroke-opacity="0.57"/>
<line x1="247.42" y1="54.60" x2="247.42" y2="62.50" stroke="#000" stroke-width="0.45" stroke-opacity="0.47"/>
<line x1="248.24" y1="54.60" x2="248.24" y2="62.50" stroke="#000" stroke-width="0.45" stroke-opacity="0.90"/>
<line x1="248.47" y1="54.60" x2="248.47" y2="62.50" stroke="#000" stroke-width="0.45" stroke-opacity="0.90"/>
<line x1="248.58" y1="54.60" x2="248.58" y2="62.50" stroke="#000" stroke-width="0.45" stroke-opacity="0.80"/>
<line x1="248.78" y1="54.60" x2="248.78" y2="62.50" stroke="#000" stroke-width="0.45" stroke-opacity="0.72"/>
<line x1="249.03" y1="54.60" x2="249.03" y2="62.50" stroke="#000" stroke-width="0.45" stroke-opacity="0.49"/>
<line x1="249.89" y1="54.60" x2="249.89" y2="62.50" stroke="#000" stroke-width="0.45" stroke-opacity="0.44"/>
<line x1="250.65" y1="54.60" x2="250.65" y2="62.50" stroke="#000" stroke-width="0.45" stroke-opacity="0.47"/>
<line x1="251.43" y1="54.60" x2="251.43" y2="62.50" stroke="#000" stroke-width="0.45" stroke-opacity="0.34"/>
<line x1="251.81" y1="54.60" x2="251.81" y2="62.50" stroke="#000" stroke-width="0.45" stroke-opacity="0.76"/>
<line x1="251.82" y1="54.60" x2="251.82" y2="62.50" stroke="#000" stroke-width="0.45" stroke-opacity="0.54"/>
<line x1="252.11" y1="54.60" x2="252.11" y2="62.50" stroke="#000" stroke-width="0.45" stroke-opacity="0.81"/>
<line x1="252.48" y1="54.60" x2="252.48" y2="62.50" stroke="#000" stroke-width="0.45" stroke-opacity="0.53"/>
<line x1="252.72" y1="54.60" x2="252.72" y2="62.50" stroke="#000" stroke-width="0.45" stroke-opacity="0.87"/>
<line x1="253.57" y1="54.60" x2="253.57" y2="62.50" stroke="#000" stroke-width="0.45" stroke-opacity="0.81"/>
<line x1="253.96" y1="54.60" x2="253.96" y2="62.50" stroke="#000" stroke-width="0.45" stroke-opacity="0.30"/>
<line x1="255.35" y1="54.60" x2="255.35" y2="62.50" stroke="#000" stroke-width="0.45" stroke-opacity="0.43"/>
<line x1="255.57" y1="54.60" x2="255.57" y2="62.50" stroke="#000" stroke-width="0.45" stroke-opacity="0.85"/>
<line x1="255.91" y1="54.60" x2="255.91" y2="62.50" stroke="#000" stroke-width="0.45" stroke-opacity="0.58"/>
<line x1="256.31" y1="54.60" x2="256.31" y2="62.50" stroke="#000" stroke-width="0.45" stroke-opacity="0.89"/>
<line x1="256.42" y1="54.60" x2="256.42" y2="62.50" stroke="#000" stroke-width="0.45" stroke-opacity="0.54"/>
<line x1="256.77" y1="54.60" x2="256.77" y2="62.50" stroke="#000" stroke-width="0.45" stroke-opacity="0.34"/>
<line x1="257.61" y1="54.60" x2="257.61" y2="62.50" stroke="#000" stroke-width="0.45" stroke-opacity="0.68"/>
<line x1="257.67" y1="54.60" x2="257.67" y2="62.50" stroke="#000" stroke-width="0.45" stroke-opacity="0.77"/>
<line x1="257.78" y1="54.60" x2="257.78" y2="62.50" stroke="#000" stroke-width="0.45" stroke-opacity="0.46"/>
<line x1="257.80" y1="54.60" x2="257.80" y2="62.50" stroke="#000" stroke-width="0.45" stroke-opacity="0.35"/>
<line x1="259.53" y1="54.60" x2="259.53" y2="62.50" stroke="#000" stroke-width="0.45" stroke-opacity="0.50"/>
<line x1="259.92" y1="54.60" x2="259.92" y2="62.50" stroke="#000" stroke-width="0.45" stroke-opacity="0.88"/>
<line x1="260.85" y1="54.60" x2="260.85" y2="62.50" stroke="#000" stroke-width="0.45" stroke-opacity="0.75"/>
<line x1="261.01" y1="54.60" x2="261.01" y2="62.50" stroke="#000" stroke-width="0.45" stroke-opacity="0.37"/>
<line x1="261.03" y1="54.60" x2="261.03" y2="62.50" stroke="#000" stroke-width="0.45" stroke-opacity="0.45"/>
<line x1="261.46" y1="54.60" x2="261.46" y2="62.50" stroke="#000" stroke-width="0.45" stroke-opacity="0.36"/>
<line x1="261.51" y1="54.60" x2="261.51" y2="62.50" stroke="#000" stroke-width="0.45" stroke-opacity="0.34"/>
<line x1="261.88" y1="54.60" x2="261.88" y2="62.50" stroke="#000" stroke-width="0.45" stroke-opacity="0.78"/>
<line x1="261.94" y1="54.60" x2="261.94" y2="62.50" stroke="#000" stroke-width="0.45" stroke-opacity="0.41"/>
<line x1="264.79" y1="54.60" x2="264.79" y2="62.50" stroke="#000" stroke-width="0.45" stroke-opacity="0.64"/>
<line x1="265.14" y1="54.60" x2="265.14" y2="62.50" stroke="#000" stroke-width="0.45" stroke-opacity="0.57"/>
<line x1="266.68" y1="54.60" x2="266.68" y2="62.50" stroke="#000" stroke-width="0.45" stroke-opacity="0.41"/>
<line x1="267.36" y1="54.60" x2="267.36" y2="62.50" stroke="#000" stroke-width="0.45" stroke-opacity="0.74"/>
<line x1="267.86" y1="54.60" x2="267.86" y2="62.50" stroke="#000" stroke-width="0.45" stroke-opacity="0.38"/>
<line x1="268.39" y1="54.60" x2="268.39" y2="62.50" stroke="#000" stroke-width="0.45" stroke-opacity="0.69"/>
<line x1="274.00" y1="54.60" x2="274.00" y2="62.50" stroke="#000" stroke-width="0.45" stroke-opacity="0.37"/>
<line x1="274.17" y1="54.60" x2="274.17" y2="62.50" stroke="#000" stroke-width="0.45" stroke-opacity="0.55"/>
<line x1="275.11" y1="54.60" x2="275.11" y2="62.50" stroke="#000" stroke-width="0.45" stroke-opacity="0.43"/>
<line x1="275.13" y1="54.60" x2="275.13" y2="62.50" stroke="#000" stroke-width="0.45" stroke-opacity="0.46"/>
<line x1="275.13" y1="54.60" x2="275.13" y2="62.50" stroke="#000" stroke-width="0.45" stroke-opacity="0.88"/>
<line x1="275.58" y1="54.60" x2="275.58" y2="62.50" stroke="#000" stroke-width="0.45" stroke-opacity="0.78"/>
<line x1="275.70" y1="54.60" x2="275.70" y2="62.50" stroke="#000" stroke-width="0.45" stroke-opacity="0.48"/>
<line x1="276.04" y1="54.60" x2="276.04" y2="62.50" stroke="#000" stroke-width="0.45" stroke-opacity="0.83"/>
<line x1="276.94" y1="54.60" x2="276.94" y2="62.50" stroke="#000" stroke-width="0.45" stroke-opacity="0.43"/>
<line x1="277.21" y1="54.60" x2="277.21" y2="62.50" stroke="#000" stroke-width="0.45" stroke-opacity="0.54"/>
<line x1="279.42" y1="54.60" x2="279.42" y2="62.50" stroke="#000" stroke-width="0.45" stroke-opacity="0.81"/>
<line x1="281.03" y1="54.60" x2="281.03" y2="62.50" stroke="#000" stroke-width="0.45" stroke-opacity="0.69"/>
<line x1="281.54" y1="54.60" x2="281.54" y2="62.50" stroke="#000" stroke-width="0.45" stroke-opacity="0.36"/>
<line x1="281.85" y1="54.60" x2="281.85" y2="62.50" stroke="#000" stroke-width="0.45" stroke-opacity="0.89"/>
<line x1="282.71" y1="54.60" x2="282.71" y2="62.50" stroke="#000" stroke-width="0.45" stroke-opacity="0.43"/>
<line x1="282.89" y1="54.60" x2="282.89" y2="62.50" stroke="#000" stroke-width="0.45" stroke-opacity="0.45"/>
<line x1="287.17" y1="54.60" x2="287.17" y2="62.50" stroke="#000" stroke-width="0.45" stroke-opacity="0.76"/>
<line x1="287.44" y1="54.60" x2="287.44" y2="62.50" stroke="#000" stroke-width="0.45" stroke-opacity="0.50"/>
<line x1="287.66" y1="54.60" x2="287.66" y2="62.50" stroke="#000" stroke-width="0.45" stroke-opacity="0.48"/>
<line x1="288.47" y1="54.60" x2="288.47" y2="62.50" stroke="#000" stroke-width="0.45" stroke-opacity="0.34"/>
<line x1="288.93" y1="54.60" x2="288.93" y2="62.50" stroke="#000" stroke-width="0.45" stroke-opacity="0.35"/>
<line x1="289.04" y1="54.60" x2="289.04" y2="62.50" stroke="#000" stroke-width="0.45" stroke-opacity="0.65"/>
<line x1="289.15" y1="54.60" x2="289.15" y2="62.50" stroke="#000" stroke-width="0.45" stroke-opacity="0.45"/>
<line x1="289.89" y1="54.60" x2="289.89" y2="62.50" stroke="#000" stroke-width="0.45" stroke-opacity="0.66"/>
<line x1="289.99" y1="54.60" x2="289.99" y2="62.50" stroke="#000" stroke-width="0.45" stroke-opacity="0.52"/>
<line x1="290.74" y1="54.60" x2="290.74" y2="62.50" stroke="#000" stroke-width="0.45" stroke-opacity="0.57"/>
<line x1="291.26" y1="54.60" x2="291.26" y2="62.50" stroke="#000" stroke-width="0.45" stroke-opacity="0.88"/>
<line x1="291.95" y1="54.60" x2="291.95" y2="62.50" stroke="#000" stroke-width="0.45" stroke-opacity="0.59"/>
<line x1="292.74" y1="54.60" x2="292.74" y2="62.50" stroke="#000" stroke-width="0.45" stroke-opacity="0.64"/>
<line x1="293.25" y1="54.60" x2="293.25" y2="62.50" stroke="#000" stroke-width="0.45" stroke-opacity="0.82"/>
<line x1="293.74" y1="54.60" x2="293.74" y2="62.50" stroke="#000" stroke-width="0.45" stroke-opacity="0.41"/>
<line x1="295.19" y1="54.60" x2="295.19" y2="62.50" stroke="#000" stroke-width="0.45" stroke-opacity="0.39"/>
<line x1="295.32" y1="54.60" x2="295.32" y2="62.50" stroke="#000" stroke-width="0.45" stroke-opacity="0.85"/>
<line x1="295.62" y1="54.60" x2="295.62" y2="62.50" stroke="#000" stroke-width="0.45" stroke-opacity="0.79"/>
<line x1="295.66" y1="54.60" x2="295.66" y2="62.50" stroke="#000" stroke-width="0.45" stroke-opacity="0.45"/>
<line x1="297.83" y1="54.60" x2="297.83" y2="62.50" stroke="#000" stroke-width="0.45" stroke-opacity="0.41"/>
<line x1="298.36" y1="54.60" x2="298.36" y2="62.50" stroke="#000" stroke-width="0.45" stroke-opacity="0.74"/>
<line x1="299.08" y1="54.60" x2="299.08" y2="62.50" stroke="#000" stroke-width="0.45" stroke-opacity="0.86"/>
<line x1="299.86" y1="54.60" x2="299.86" y2="62.50" stroke="#000" stroke-width="0.45" stroke-opacity="0.42"/>
<line x1="300.12" y1="54.60" x2="300.12" y2="62.50" stroke="#000" stroke-width="0.45" stroke-opacity="0.87"/>
<line x1="300.53" y1="54.60" x2="300.53" y2="62.50" stroke="#000" stroke-width="0.45" stroke-opacity="0.83"/>
<line x1="301.05" y1="54.60" x2="301.05" y2="62.50" stroke="#000" stroke-width="0.45" stroke-opacity="0.66"/>
<line x1="301.20" y1="54.60" x2="301.20" y2="62.50" stroke="#000" stroke-width="0.45" stroke-opacity="0.55"/>
<line x1="301.35" y1="54.60" x2="301.35" y2="62.50" stroke="#000" stroke-width="0.45" stroke-opacity="0.36"/>
<line x1="311.24" y1="54.60" x2="311.24" y2="62.50" stroke="#000" stroke-width="0.45" stroke-opacity="0.32"/>
<line x1="311.56" y1="54.60" x2="311.56" y2="62.50" stroke="#000" stroke-width="0.45" stroke-opacity="0.88"/>
<line x1="311.88" y1="54.60" x2="311.88" y2="62.50" stroke="#000" stroke-width="0.45" stroke-opacity="0.44"/>
<line x1="312.00" y1="54.60" x2="312.00" y2="62.50" stroke="#000" stroke-width="0.45" stroke-opacity="0.72"/>
<line x1="312.91" y1="54.60" x2="312.91" y2="62.50" stroke="#000" stroke-width="0.45" stroke-opacity="0.45"/>
<line x1="313.54" y1="54.60" x2="313.54" y2="62.50" stroke="#000" stroke-width="0.45" stroke-opacity="0.79"/>
<line x1="313.56" y1="54.60" x2="313.56" y2="62.50" stroke="#000" stroke-width="0.45" stroke-opacity="0.66"/>
<line x1="313.96" y1="54.60" x2="313.96" y2="62.50" stroke="#000" stroke-width="0.45" stroke-opacity="0.48"/>
<line x1="314.31" y1="54.60" x2="314.31" y2="62.50" stroke="#000" stroke-width="0.45" stroke-opacity="0.41"/>
<line x1="314.46" y1="54.60" x2="314.46" y2="62.50" stroke="#000" stroke-width="0.45" stroke-opacity="0.73"/>
<line x1="314.73" y1="54.60" x2="314.73" y2="62.50" stroke="#000" stroke-width="0.45" stroke-opacity="0.34"/>
<line x1="314.90" y1="54.60" x2="314.90" y2="62.50" stroke="#000" stroke-width="0.45" stroke-opacity="0.44"/>
<line x1="315.06" y1="54.60" x2="315.06" y2="62.50" stroke="#000" stroke-width="0.45" stroke-opacity="0.64"/>
<line x1="315.25" y1="54.60" x2="315.25" y2="62.50" stroke="#000" stroke-width="0.45" stroke-opacity="0.81"/>
<line x1="316.25" y1="54.60" x2="316.25" y2="62.50" stroke="#000" stroke-width="0.45" stroke-opacity="0.67"/>
<line x1="316.35" y1="54.60" x2="316.35" y2="62.50" stroke="#000" stroke-width="0.45" stroke-opacity="0.47"/>
<line x1="317.46" y1="54.60" x2="317.46" y2="62.50" stroke="#000" stroke-width="0.45" stroke-opacity="0.85"/>
<line x1="319.11" y1="54.60" x2="319.11" y2="62.50" stroke="#000" stroke-width="0.45" stroke-opacity="0.42"/>
<line x1="319.30" y1="54.60" x2="319.30" y2="62.50" stroke="#000" stroke-width="0.45" stroke-opacity="0.31"/>
<line x1="319.65" y1="54.60" x2="319.65" y2="62.50" stroke="#000" stroke-width="0.45" stroke-opacity="0.46"/>
<line x1="319.91" y1="54.60" x2="319.91" y2="62.50" stroke="#000" stroke-width="0.45" stroke-opacity="0.57"/>
<line x1="320.53" y1="54.60" x2="320.53" y2="62.50" stroke="#000" stroke-width="0.45" stroke-opacity="0.34"/>
<line x1="321.22" y1="54.60" x2="321.22" y2="62.50" stroke="#000" stroke-width="0.45" stroke-opacity="0.41"/>
<line x1="321.45" y1="54.60" x2="321.45" y2="62.50" stroke="#000" stroke-width="0.45" stroke-opacity="0.52"/>
<line x1="322.94" y1="54.60" x2="322.94" y2="62.50" stroke="#000" stroke-width="0.45" stroke-opacity="0.64"/>
<line x1="323.36" y1="54.60" x2="323.36" y2="62.50" stroke="#000" stroke-width="0.45" stroke-opacity="0.38"/>
<line x1="323.92" y1="54.60" x2="323.92" y2="62.50" stroke="#000" stroke-width="0.45" stroke-opacity="0.52"/>
<line x1="324.30" y1="54.60" x2="324.30" y2="62.50" stroke="#000" stroke-width="0.45" stroke-opacity="0.83"/>
<line x1="324.96" y1="54.60" x2="324.96" y2="62.50" stroke="#000" stroke-width="0.45" stroke-opacity="0.89"/>
<line x1="325.22" y1="54.60" x2="325.22" y2="62.50" stroke="#000" stroke-width="0.45" stroke-opacity="0.69"/>
<defs><linearGradient id="gc1" x1="0" x2="1" y1="0" y2="0"><stop offset="0.000" stop-color="#e8412e"/><stop offset="0.122" stop-color="#ee6a52"/><stop offset="0.263" stop-color="#f4a890"/><stop offset="0.318" stop-color="#fbe0d6"/><stop offset="0.372" stop-color="#ffffff"/><stop offset="0.557" stop-color="#ffffff"/><stop offset="0.579" stop-color="#d8e6f4"/><stop offset="0.753" stop-color="#b0cde9"/><stop offset="0.786" stop-color="#5a94d0"/><stop offset="1.000" stop-color="#2f68b4"/></linearGradient></defs>
<rect x="233.80" y="62.60" width="91.90" height="3.00" fill="url(#gc1)" stroke="none" stroke-width="0.5"/>
<text x="235.50" y="69.60" font-size="4.6" font-style="italic" fill="#333" stroke="#333" stroke-width="0.1">SOCS1<tspan font-size="2.9" dy="-1.7">lo</tspan><tspan dy="1.7">/SOCS3</tspan><tspan font-size="2.9" dy="-1.7">lo</tspan></text>
<text x="324.50" y="69.80" font-size="4.3" text-anchor="end" fill="#333" stroke="#333" stroke-width="0.1">Normal</text>
<rect x="233.80" y="70.60" width="91.90" height="14.70" fill="none" stroke="#bbb" stroke-width="0.35"/>
<line x1="250.10" y1="70.60" x2="250.10" y2="85.30" stroke="#eee" stroke-width="0.3"/>
<line x1="266.40" y1="70.60" x2="266.40" y2="85.30" stroke="#eee" stroke-width="0.3"/>
<line x1="282.70" y1="70.60" x2="282.70" y2="85.30" stroke="#eee" stroke-width="0.3"/>
<line x1="299.00" y1="70.60" x2="299.00" y2="85.30" stroke="#eee" stroke-width="0.3"/>
<line x1="315.30" y1="70.60" x2="315.30" y2="85.30" stroke="#eee" stroke-width="0.3"/>
<path d="M233.80,71.80 L233.80,70.90 L236.36,71.05 L238.92,71.13 L241.48,71.19 L244.04,71.24 L246.60,71.29 L249.16,71.34 L251.72,71.38 L254.28,71.42 L256.84,71.46 L259.40,71.49 L261.96,71.53 L264.52,71.56 L267.08,71.60 L269.64,71.63 L272.20,71.66 L274.76,71.69 L277.32,71.72 L279.88,71.74 L282.44,71.77 L285.00,71.80 L287.04,71.80 L289.07,71.81 L291.11,71.82 L293.14,71.83 L295.18,71.85 L297.21,71.87 L299.25,71.90 L301.28,71.93 L303.31,71.97 L305.35,72.02 L307.38,72.07 L309.42,72.13 L311.45,72.19 L313.49,72.26 L315.52,72.33 L317.56,72.41 L319.59,72.50 L321.63,72.59 L323.66,72.69 L325.70,72.80 L325.70,76.50 L325.70,71.80" stroke="none" stroke-width="0" fill="#bdbdbd"/>
<text x="232.00" y="69.20" font-size="4.0" text-anchor="end" fill="#333" stroke="#333" stroke-width="0.1">10</text>
<text x="232.00" y="72.40" font-size="4.0" text-anchor="end" fill="#333" stroke="#333" stroke-width="0.1">0</text>
<text x="232.00" y="77.40" font-size="4.0" text-anchor="end" fill="#333" stroke="#333" stroke-width="0.1">-10</text>
<text x="232.00" y="81.30" font-size="4.0" text-anchor="end" fill="#333" stroke="#333" stroke-width="0.1">-20</text>
<text x="232.00" y="84.70" font-size="4.0" text-anchor="end" fill="#333" stroke="#333" stroke-width="0.1">-30</text>
<text x="210.60" y="41.70" font-size="5.2" text-anchor="middle" fill="#333" transform="rotate(-90 210.6 41.7)" stroke="#333" stroke-width="0.1">Running</text>
<text x="216.70" y="41.70" font-size="5.2" text-anchor="middle" fill="#333" transform="rotate(-90 216.7 41.7)" stroke="#333" stroke-width="0.1">Enrichment</text>
<text x="222.80" y="41.70" font-size="5.2" text-anchor="middle" fill="#333" transform="rotate(-90 222.79999999999998 41.7)" stroke="#333" stroke-width="0.1">Score</text>
<text x="216.70" y="74.00" font-size="5.2" text-anchor="middle" fill="#333" transform="rotate(-90 216.7 74.0)" stroke="#333" stroke-width="0.1">Ranked</text>
<text x="222.80" y="74.00" font-size="5.2" text-anchor="middle" fill="#333" transform="rotate(-90 222.79999999999998 74.0)" stroke="#333" stroke-width="0.1">List Metric</text>
<text x="233.60" y="12.80" font-size="5.2" fill="#111" stroke="#111" stroke-width="0.1">Antioxidant_Activity</text>
<text x="233.90" y="20.40" font-size="4.5" fill="#ee4444" stroke="#ee4444" stroke-width="0.1">GO:0016209</text>
<line x1="234.30" y1="92.30" x2="234.30" y2="152.50" stroke="#555" stroke-width="0.45"/>
<text x="232.00" y="96.80" font-size="4.0" text-anchor="end" fill="#333" stroke="#333" stroke-width="0.1">0.2</text>
<line x1="233.00" y1="95.50" x2="234.30" y2="95.50" stroke="#555" stroke-width="0.35"/>
<text x="232.00" y="102.90" font-size="4.0" text-anchor="end" fill="#333" stroke="#333" stroke-width="0.1">0.1</text>
<line x1="233.00" y1="101.60" x2="234.30" y2="101.60" stroke="#555" stroke-width="0.35"/>
<text x="232.00" y="109.00" font-size="4.0" text-anchor="end" fill="#333" stroke="#333" stroke-width="0.1">0.0</text>
<line x1="233.00" y1="107.70" x2="234.30" y2="107.70" stroke="#555" stroke-width="0.35"/>
<text x="232.00" y="115.10" font-size="4.0" text-anchor="end" fill="#333" stroke="#333" stroke-width="0.1">-0.1</text>
<line x1="233.00" y1="113.80" x2="234.30" y2="113.80" stroke="#555" stroke-width="0.35"/>
<text x="232.00" y="121.20" font-size="4.0" text-anchor="end" fill="#333" stroke="#333" stroke-width="0.1">-0.2</text>
<line x1="233.00" y1="119.90" x2="234.30" y2="119.90" stroke="#555" stroke-width="0.35"/>
<path d="M234.30,106.90 L236.80,109.10 L239.50,108.30 L242.20,105.60 L244.90,104.80 L247.60,104.20 L251.60,101.50 L255.70,97.50 L261.10,94.00 L265.10,94.00 L273.20,94.50 L284.00,98.80 L297.60,106.40 L311.00,113.70 L320.50,119.10 L323.20,120.40 L325.10,115.00 L326.00,108.30" stroke="#ee3b3b" stroke-width="0.85" fill="none"/>
<text x="243.00" y="118.10" font-size="6.0" fill="#111" stroke="#111" stroke-width="0.1">NES: 0.6776302</text>
<text x="299.20" y="99.10" font-size="4.4" fill="#111" stroke="#111" stroke-width="0.1">p = 0.9861</text>
<text x="299.20" y="103.90" font-size="4.4" fill="#111" stroke="#111" stroke-width="0.1">p.adj = 0.9861</text>
<line x1="234.88" y1="121.80" x2="234.88" y2="130.80" stroke="#000" stroke-width="0.45" stroke-opacity="0.58"/>
<line x1="235.00" y1="121.80" x2="235.00" y2="130.80" stroke="#000" stroke-width="0.45" stroke-opacity="0.69"/>
<line x1="235.12" y1="121.80" x2="235.12" y2="130.80" stroke="#000" stroke-width="0.45" stroke-opacity="0.70"/>
<line x1="235.57" y1="121.80" x2="235.57" y2="130.80" stroke="#000" stroke-width="0.45" stroke-opacity="0.39"/>
<line x1="235.87" y1="121.80" x2="235.87" y2="130.80" stroke="#000" stroke-width="0.45" stroke-opacity="0.31"/>
<line x1="236.12" y1="121.80" x2="236.12" y2="130.80" stroke="#000" stroke-width="0.45" stroke-opacity="0.52"/>
<line x1="236.25" y1="121.80" x2="236.25" y2="130.80" stroke="#000" stroke-width="0.45" stroke-opacity="0.46"/>
<line x1="236.62" y1="121.80" x2="236.62" y2="130.80" stroke="#000" stroke-width="0.45" stroke-opacity="0.79"/>
<line x1="236.80" y1="121.80" x2="236.80" y2="130.80" stroke="#000" stroke-width="0.45" stroke-opacity="0.71"/>
<line x1="237.45" y1="121.80" x2="237.45" y2="130.80" stroke="#000" stroke-width="0.45" stroke-opacity="0.66"/>
<line x1="237.49" y1="121.80" x2="237.49" y2="130.80" stroke="#000" stroke-width="0.45" stroke-opacity="0.63"/>
<line x1="237.88" y1="121.80" x2="237.88" y2="130.80" stroke="#000" stroke-width="0.45" stroke-opacity="0.70"/>
<line x1="238.00" y1="121.80" x2="238.00" y2="130.80" stroke="#000" stroke-width="0.45" stroke-opacity="0.39"/>
<line x1="238.79" y1="121.80" x2="238.79" y2="130.80" stroke="#000" stroke-width="0.45" stroke-opacity="0.56"/>
<line x1="239.73" y1="121.80" x2="239.73" y2="130.80" stroke="#000" stroke-width="0.45" stroke-opacity="0.40"/>
<line x1="240.40" y1="121.80" x2="240.40" y2="130.80" stroke="#000" stroke-width="0.45" stroke-opacity="0.84"/>
<line x1="240.97" y1="121.80" x2="240.97" y2="130.80" stroke="#000" stroke-width="0.45" stroke-opacity="0.34"/>
<line x1="241.05" y1="121.80" x2="241.05" y2="130.80" stroke="#000" stroke-width="0.45" stroke-opacity="0.79"/>
<line x1="242.27" y1="121.80" x2="242.27" y2="130.80" stroke="#000" stroke-width="0.45" stroke-opacity="0.34"/>
<line x1="242.70" y1="121.80" x2="242.70" y2="130.80" stroke="#000" stroke-width="0.45" stroke-opacity="0.71"/>
<line x1="242.85" y1="121.80" x2="242.85" y2="130.80" stroke="#000" stroke-width="0.45" stroke-opacity="0.50"/>
<line x1="243.82" y1="121.80" x2="243.82" y2="130.80" stroke="#000" stroke-width="0.45" stroke-opacity="0.54"/>
<line x1="243.83" y1="121.80" x2="243.83" y2="130.80" stroke="#000" stroke-width="0.45" stroke-opacity="0.81"/>
<line x1="243.90" y1="121.80" x2="243.90" y2="130.80" stroke="#000" stroke-width="0.45" stroke-opacity="0.31"/>
<line x1="244.13" y1="121.80" x2="244.13" y2="130.80" stroke="#000" stroke-width="0.45" stroke-opacity="0.34"/>
<line x1="244.34" y1="121.80" x2="244.34" y2="130.80" stroke="#000" stroke-width="0.45" stroke-opacity="0.85"/>
<line x1="244.74" y1="121.80" x2="244.74" y2="130.80" stroke="#000" stroke-width="0.45" stroke-opacity="0.61"/>
<line x1="245.38" y1="121.80" x2="245.38" y2="130.80" stroke="#000" stroke-width="0.45" stroke-opacity="0.35"/>
<line x1="246.51" y1="121.80" x2="246.51" y2="130.80" stroke="#000" stroke-width="0.45" stroke-opacity="0.89"/>
<line x1="247.27" y1="121.80" x2="247.27" y2="130.80" stroke="#000" stroke-width="0.45" stroke-opacity="0.87"/>
<line x1="247.70" y1="121.80" x2="247.70" y2="130.80" stroke="#000" stroke-width="0.45" stroke-opacity="0.37"/>
<line x1="248.01" y1="121.80" x2="248.01" y2="130.80" stroke="#000" stroke-width="0.45" stroke-opacity="0.55"/>
<line x1="248.39" y1="121.80" x2="248.39" y2="130.80" stroke="#000" stroke-width="0.45" stroke-opacity="0.38"/>
<line x1="249.60" y1="121.80" x2="249.60" y2="130.80" stroke="#000" stroke-width="0.45" stroke-opacity="0.49"/>
<line x1="249.92" y1="121.80" x2="249.92" y2="130.80" stroke="#000" stroke-width="0.45" stroke-opacity="0.67"/>
<line x1="250.26" y1="121.80" x2="250.26" y2="130.80" stroke="#000" stroke-width="0.45" stroke-opacity="0.40"/>
<line x1="250.40" y1="121.80" x2="250.40" y2="130.80" stroke="#000" stroke-width="0.45" stroke-opacity="0.72"/>
<line x1="250.50" y1="121.80" x2="250.50" y2="130.80" stroke="#000" stroke-width="0.45" stroke-opacity="0.33"/>
<line x1="250.71" y1="121.80" x2="250.71" y2="130.80" stroke="#000" stroke-width="0.45" stroke-opacity="0.40"/>
<line x1="251.25" y1="121.80" x2="251.25" y2="130.80" stroke="#000" stroke-width="0.45" stroke-opacity="0.79"/>
<line x1="252.47" y1="121.80" x2="252.47" y2="130.80" stroke="#000" stroke-width="0.45" stroke-opacity="0.54"/>
<line x1="253.04" y1="121.80" x2="253.04" y2="130.80" stroke="#000" stroke-width="0.45" stroke-opacity="0.55"/>
<line x1="253.88" y1="121.80" x2="253.88" y2="130.80" stroke="#000" stroke-width="0.45" stroke-opacity="0.66"/>
<line x1="254.15" y1="121.80" x2="254.15" y2="130.80" stroke="#000" stroke-width="0.45" stroke-opacity="0.59"/>
<line x1="254.29" y1="121.80" x2="254.29" y2="130.80" stroke="#000" stroke-width="0.45" stroke-opacity="0.53"/>
<line x1="254.99" y1="121.80" x2="254.99" y2="130.80" stroke="#000" stroke-width="0.45" stroke-opacity="0.32"/>
<line x1="255.38" y1="121.80" x2="255.38" y2="130.80" stroke="#000" stroke-width="0.45" stroke-opacity="0.74"/>
<line x1="255.39" y1="121.80" x2="255.39" y2="130.80" stroke="#000" stroke-width="0.45" stroke-opacity="0.88"/>
<line x1="255.44" y1="121.80" x2="255.44" y2="130.80" stroke="#000" stroke-width="0.45" stroke-opacity="0.89"/>
<line x1="256.05" y1="121.80" x2="256.05" y2="130.80" stroke="#000" stroke-width="0.45" stroke-opacity="0.70"/>
<line x1="256.61" y1="121.80" x2="256.61" y2="130.80" stroke="#000" stroke-width="0.45" stroke-opacity="0.51"/>
<line x1="256.82" y1="121.80" x2="256.82" y2="130.80" stroke="#000" stroke-width="0.45" stroke-opacity="0.52"/>
<line x1="257.53" y1="121.80" x2="257.53" y2="130.80" stroke="#000" stroke-width="0.45" stroke-opacity="0.71"/>
<line x1="257.77" y1="121.80" x2="257.77" y2="130.80" stroke="#000" stroke-width="0.45" stroke-opacity="0.70"/>
<line x1="258.58" y1="121.80" x2="258.58" y2="130.80" stroke="#000" stroke-width="0.45" stroke-opacity="0.37"/>
<line x1="258.83" y1="121.80" x2="258.83" y2="130.80" stroke="#000" stroke-width="0.45" stroke-opacity="0.44"/>
<line x1="259.07" y1="121.80" x2="259.07" y2="130.80" stroke="#000" stroke-width="0.45" stroke-opacity="0.52"/>
<line x1="259.23" y1="121.80" x2="259.23" y2="130.80" stroke="#000" stroke-width="0.45" stroke-opacity="0.61"/>
<line x1="259.80" y1="121.80" x2="259.80" y2="130.80" stroke="#000" stroke-width="0.45" stroke-opacity="0.79"/>
<line x1="260.91" y1="121.80" x2="260.91" y2="130.80" stroke="#000" stroke-width="0.45" stroke-opacity="0.60"/>
<line x1="261.79" y1="121.80" x2="261.79" y2="130.80" stroke="#000" stroke-width="0.45" stroke-opacity="0.32"/>
<line x1="261.89" y1="121.80" x2="261.89" y2="130.80" stroke="#000" stroke-width="0.45" stroke-opacity="0.79"/>
<line x1="261.91" y1="121.80" x2="261.91" y2="130.80" stroke="#000" stroke-width="0.45" stroke-opacity="0.56"/>
<line x1="261.95" y1="121.80" x2="261.95" y2="130.80" stroke="#000" stroke-width="0.45" stroke-opacity="0.61"/>
<line x1="262.16" y1="121.80" x2="262.16" y2="130.80" stroke="#000" stroke-width="0.45" stroke-opacity="0.43"/>
<line x1="263.25" y1="121.80" x2="263.25" y2="130.80" stroke="#000" stroke-width="0.45" stroke-opacity="0.56"/>
<line x1="263.46" y1="121.80" x2="263.46" y2="130.80" stroke="#000" stroke-width="0.45" stroke-opacity="0.53"/>
<line x1="263.76" y1="121.80" x2="263.76" y2="130.80" stroke="#000" stroke-width="0.45" stroke-opacity="0.76"/>
<line x1="263.90" y1="121.80" x2="263.90" y2="130.80" stroke="#000" stroke-width="0.45" stroke-opacity="0.36"/>
<line x1="264.12" y1="121.80" x2="264.12" y2="130.80" stroke="#000" stroke-width="0.45" stroke-opacity="0.63"/>
<line x1="264.34" y1="121.80" x2="264.34" y2="130.80" stroke="#000" stroke-width="0.45" stroke-opacity="0.41"/>
<line x1="264.82" y1="121.80" x2="264.82" y2="130.80" stroke="#000" stroke-width="0.45" stroke-opacity="0.72"/>
<line x1="266.12" y1="121.80" x2="266.12" y2="130.80" stroke="#000" stroke-width="0.45" stroke-opacity="0.32"/>
<line x1="266.60" y1="121.80" x2="266.60" y2="130.80" stroke="#000" stroke-width="0.45" stroke-opacity="0.47"/>
<line x1="268.77" y1="121.80" x2="268.77" y2="130.80" stroke="#000" stroke-width="0.45" stroke-opacity="0.51"/>
<line x1="269.08" y1="121.80" x2="269.08" y2="130.80" stroke="#000" stroke-width="0.45" stroke-opacity="0.68"/>
<line x1="270.10" y1="121.80" x2="270.10" y2="130.80" stroke="#000" stroke-width="0.45" stroke-opacity="0.33"/>
<line x1="270.23" y1="121.80" x2="270.23" y2="130.80" stroke="#000" stroke-width="0.45" stroke-opacity="0.58"/>
<line x1="270.55" y1="121.80" x2="270.55" y2="130.80" stroke="#000" stroke-width="0.45" stroke-opacity="0.43"/>
<line x1="271.12" y1="121.80" x2="271.12" y2="130.80" stroke="#000" stroke-width="0.45" stroke-opacity="0.47"/>
<line x1="271.27" y1="121.80" x2="271.27" y2="130.80" stroke="#000" stroke-width="0.45" stroke-opacity="0.59"/>
<line x1="272.30" y1="121.80" x2="272.30" y2="130.80" stroke="#000" stroke-width="0.45" stroke-opacity="0.88"/>
<line x1="272.53" y1="121.80" x2="272.53" y2="130.80" stroke="#000" stroke-width="0.45" stroke-opacity="0.59"/>
<line x1="272.66" y1="121.80" x2="272.66" y2="130.80" stroke="#000" stroke-width="0.45" stroke-opacity="0.87"/>
<line x1="272.82" y1="121.80" x2="272.82" y2="130.80" stroke="#000" stroke-width="0.45" stroke-opacity="0.40"/>
<line x1="273.24" y1="121.80" x2="273.24" y2="130.80" stroke="#000" stroke-width="0.45" stroke-opacity="0.85"/>
<line x1="274.00" y1="121.80" x2="274.00" y2="130.80" stroke="#000" stroke-width="0.45" stroke-opacity="0.52"/>
<line x1="274.18" y1="121.80" x2="274.18" y2="130.80" stroke="#000" stroke-width="0.45" stroke-opacity="0.41"/>
<line x1="274.21" y1="121.80" x2="274.21" y2="130.80" stroke="#000" stroke-width="0.45" stroke-opacity="0.75"/>
<line x1="274.51" y1="121.80" x2="274.51" y2="130.80" stroke="#000" stroke-width="0.45" stroke-opacity="0.85"/>
<line x1="274.52" y1="121.80" x2="274.52" y2="130.80" stroke="#000" stroke-width="0.45" stroke-opacity="0.30"/>
<line x1="274.57" y1="121.80" x2="274.57" y2="130.80" stroke="#000" stroke-width="0.45" stroke-opacity="0.46"/>
<line x1="276.26" y1="121.80" x2="276.26" y2="130.80" stroke="#000" stroke-width="0.45" stroke-opacity="0.76"/>
<line x1="277.54" y1="121.80" x2="277.54" y2="130.80" stroke="#000" stroke-width="0.45" stroke-opacity="0.51"/>
<line x1="278.81" y1="121.80" x2="278.81" y2="130.80" stroke="#000" stroke-width="0.45" stroke-opacity="0.44"/>
<line x1="278.89" y1="121.80" x2="278.89" y2="130.80" stroke="#000" stroke-width="0.45" stroke-opacity="0.31"/>
<line x1="279.78" y1="121.80" x2="279.78" y2="130.80" stroke="#000" stroke-width="0.45" stroke-opacity="0.32"/>
<line x1="281.08" y1="121.80" x2="281.08" y2="130.80" stroke="#000" stroke-width="0.45" stroke-opacity="0.67"/>
<line x1="281.10" y1="121.80" x2="281.10" y2="130.80" stroke="#000" stroke-width="0.45" stroke-opacity="0.89"/>
<line x1="281.40" y1="121.80" x2="281.40" y2="130.80" stroke="#000" stroke-width="0.45" stroke-opacity="0.90"/>
<line x1="281.58" y1="121.80" x2="281.58" y2="130.80" stroke="#000" stroke-width="0.45" stroke-opacity="0.60"/>
<line x1="281.80" y1="121.80" x2="281.80" y2="130.80" stroke="#000" stroke-width="0.45" stroke-opacity="0.31"/>
<line x1="282.34" y1="121.80" x2="282.34" y2="130.80" stroke="#000" stroke-width="0.45" stroke-opacity="0.49"/>
<line x1="282.94" y1="121.80" x2="282.94" y2="130.80" stroke="#000" stroke-width="0.45" stroke-opacity="0.77"/>
<line x1="284.71" y1="121.80" x2="284.71" y2="130.80" stroke="#000" stroke-width="0.45" stroke-opacity="0.80"/>
<line x1="285.92" y1="121.80" x2="285.92" y2="130.80" stroke="#000" stroke-width="0.45" stroke-opacity="0.68"/>
<line x1="286.59" y1="121.80" x2="286.59" y2="130.80" stroke="#000" stroke-width="0.45" stroke-opacity="0.44"/>
<line x1="286.94" y1="121.80" x2="286.94" y2="130.80" stroke="#000" stroke-width="0.45" stroke-opacity="0.62"/>
<line x1="287.11" y1="121.80" x2="287.11" y2="130.80" stroke="#000" stroke-width="0.45" stroke-opacity="0.59"/>
<line x1="287.64" y1="121.80" x2="287.64" y2="130.80" stroke="#000" stroke-width="0.45" stroke-opacity="0.68"/>
<line x1="288.77" y1="121.80" x2="288.77" y2="130.80" stroke="#000" stroke-width="0.45" stroke-opacity="0.46"/>
<line x1="288.93" y1="121.80" x2="288.93" y2="130.80" stroke="#000" stroke-width="0.45" stroke-opacity="0.87"/>
<line x1="288.94" y1="121.80" x2="288.94" y2="130.80" stroke="#000" stroke-width="0.45" stroke-opacity="0.84"/>
<line x1="289.46" y1="121.80" x2="289.46" y2="130.80" stroke="#000" stroke-width="0.45" stroke-opacity="0.40"/>
<line x1="289.63" y1="121.80" x2="289.63" y2="130.80" stroke="#000" stroke-width="0.45" stroke-opacity="0.47"/>
<line x1="290.13" y1="121.80" x2="290.13" y2="130.80" stroke="#000" stroke-width="0.45" stroke-opacity="0.82"/>
<line x1="290.64" y1="121.80" x2="290.64" y2="130.80" stroke="#000" stroke-width="0.45" stroke-opacity="0.47"/>
<line x1="291.07" y1="121.80" x2="291.07" y2="130.80" stroke="#000" stroke-width="0.45" stroke-opacity="0.87"/>
<line x1="291.26" y1="121.80" x2="291.26" y2="130.80" stroke="#000" stroke-width="0.45" stroke-opacity="0.61"/>
<line x1="291.91" y1="121.80" x2="291.91" y2="130.80" stroke="#000" stroke-width="0.45" stroke-opacity="0.72"/>
<line x1="297.05" y1="121.80" x2="297.05" y2="130.80" stroke="#000" stroke-width="0.45" stroke-opacity="0.72"/>
<line x1="297.71" y1="121.80" x2="297.71" y2="130.80" stroke="#000" stroke-width="0.45" stroke-opacity="0.43"/>
<line x1="297.93" y1="121.80" x2="297.93" y2="130.80" stroke="#000" stroke-width="0.45" stroke-opacity="0.47"/>
<line x1="298.04" y1="121.80" x2="298.04" y2="130.80" stroke="#000" stroke-width="0.45" stroke-opacity="0.45"/>
<line x1="298.28" y1="121.80" x2="298.28" y2="130.80" stroke="#000" stroke-width="0.45" stroke-opacity="0.71"/>
<line x1="299.36" y1="121.80" x2="299.36" y2="130.80" stroke="#000" stroke-width="0.45" stroke-opacity="0.72"/>
<line x1="301.47" y1="121.80" x2="301.47" y2="130.80" stroke="#000" stroke-width="0.45" stroke-opacity="0.38"/>
<line x1="301.55" y1="121.80" x2="301.55" y2="130.80" stroke="#000" stroke-width="0.45" stroke-opacity="0.83"/>
<line x1="301.64" y1="121.80" x2="301.64" y2="130.80" stroke="#000" stroke-width="0.45" stroke-opacity="0.55"/>
<line x1="303.09" y1="121.80" x2="303.09" y2="130.80" stroke="#000" stroke-width="0.45" stroke-opacity="0.44"/>
<line x1="316.31" y1="121.80" x2="316.31" y2="130.80" stroke="#000" stroke-width="0.45" stroke-opacity="0.56"/>
<line x1="316.68" y1="121.80" x2="316.68" y2="130.80" stroke="#000" stroke-width="0.45" stroke-opacity="0.89"/>
<line x1="316.87" y1="121.80" x2="316.87" y2="130.80" stroke="#000" stroke-width="0.45" stroke-opacity="0.64"/>
<line x1="317.94" y1="121.80" x2="317.94" y2="130.80" stroke="#000" stroke-width="0.45" stroke-opacity="0.67"/>
<line x1="323.67" y1="121.80" x2="323.67" y2="130.80" stroke="#000" stroke-width="0.45" stroke-opacity="0.85"/>
<line x1="324.35" y1="121.80" x2="324.35" y2="130.80" stroke="#000" stroke-width="0.45" stroke-opacity="0.88"/>
<line x1="325.04" y1="121.80" x2="325.04" y2="130.80" stroke="#000" stroke-width="0.45" stroke-opacity="0.76"/>
<line x1="325.60" y1="121.80" x2="325.60" y2="130.80" stroke="#000" stroke-width="0.45" stroke-opacity="0.55"/>
<line x1="325.68" y1="121.80" x2="325.68" y2="130.80" stroke="#000" stroke-width="0.45" stroke-opacity="0.65"/>
<line x1="325.85" y1="121.80" x2="325.85" y2="130.80" stroke="#000" stroke-width="0.45" stroke-opacity="0.84"/>
<line x1="325.00" y1="121.80" x2="325.00" y2="130.80" stroke="#000" stroke-width="1.1"/>
<defs><linearGradient id="gc2" x1="0" x2="1" y1="0" y2="0"><stop offset="0.000" stop-color="#e8412e"/><stop offset="0.106" stop-color="#ec5a40"/><stop offset="0.117" stop-color="#f08c74"/><stop offset="0.444" stop-color="#f4b09c"/><stop offset="0.498" stop-color="#fbe2d8"/><stop offset="0.586" stop-color="#ffffff"/><stop offset="0.640" stop-color="#ffffff"/><stop offset="0.662" stop-color="#d6e6f4"/><stop offset="0.749" stop-color="#a8c8e8"/><stop offset="0.771" stop-color="#4a8ad0"/><stop offset="1.000" stop-color="#2a64b0"/></linearGradient></defs>
<rect x="234.30" y="131.00" width="91.70" height="3.00" fill="url(#gc2)" stroke="none" stroke-width="0.5"/>
<text x="237.30" y="138.30" font-size="4.6" font-style="italic" fill="#333" stroke="#333" stroke-width="0.1">SOCS1<tspan font-size="2.9" dy="-1.7">lo</tspan><tspan dy="1.7">/SOCS3</tspan><tspan font-size="2.9" dy="-1.7">lo</tspan></text>
<text x="326.30" y="137.80" font-size="4.3" text-anchor="end" fill="#333" stroke="#333" stroke-width="0.1">Normal</text>
<rect x="234.30" y="134.00" width="91.70" height="18.50" fill="none" stroke="#bbb" stroke-width="0.35"/>
<line x1="250.60" y1="134.00" x2="250.60" y2="152.50" stroke="#eee" stroke-width="0.3"/>
<line x1="266.90" y1="134.00" x2="266.90" y2="152.50" stroke="#eee" stroke-width="0.3"/>
<line x1="283.20" y1="134.00" x2="283.20" y2="152.50" stroke="#eee" stroke-width="0.3"/>
<line x1="299.50" y1="134.00" x2="299.50" y2="152.50" stroke="#eee" stroke-width="0.3"/>
<line x1="315.80" y1="134.00" x2="315.80" y2="152.50" stroke="#eee" stroke-width="0.3"/>
<path d="M234.30,142.80 L234.30,138.80 L237.59,139.46 L240.87,139.80 L244.16,140.08 L247.44,140.32 L250.73,140.54 L254.01,140.74 L257.30,140.93 L260.58,141.11 L263.87,141.28 L267.15,141.44 L270.44,141.59 L273.72,141.74 L277.00,141.89 L280.29,142.03 L283.57,142.17 L286.86,142.30 L290.14,142.43 L293.43,142.55 L296.71,142.68 L300.00,142.80 L301.30,142.80 L302.60,142.81 L303.90,142.83 L305.20,142.85 L306.50,142.88 L307.80,142.92 L309.10,142.97 L310.40,143.03 L311.70,143.09 L313.00,143.17 L314.30,143.26 L315.60,143.35 L316.90,143.46 L318.20,143.58 L319.50,143.70 L320.80,143.84 L322.10,143.99 L323.40,144.15 L324.70,144.32 L326.00,144.50 L326.00,147.50 L326.00,142.80" stroke="none" stroke-width="0" fill="#bdbdbd"/>
<text x="232.50" y="136.30" font-size="4.0" text-anchor="end" fill="#333" stroke="#333" stroke-width="0.1">10</text>
<text x="232.50" y="139.40" font-size="4.0" text-anchor="end" fill="#333" stroke="#333" stroke-width="0.1">5</text>
<text x="232.50" y="142.80" font-size="4.0" text-anchor="end" fill="#333" stroke="#333" stroke-width="0.1">0</text>
<text x="232.50" y="147.20" font-size="4.0" text-anchor="end" fill="#333" stroke="#333" stroke-width="0.1">-5</text>
<text x="232.50" y="152.10" font-size="4.0" text-anchor="end" fill="#333" stroke="#333" stroke-width="0.1">-10</text>
<text x="250.60" y="158.40" font-size="4.6" text-anchor="middle" fill="#333" stroke="#333" stroke-width="0.1">1000</text>
<line x1="250.60" y1="152.50" x2="250.60" y2="153.50" stroke="#555" stroke-width="0.35"/>
<text x="266.90" y="158.40" font-size="4.6" text-anchor="middle" fill="#333" stroke="#333" stroke-width="0.1">2000</text>
<line x1="266.90" y1="152.50" x2="266.90" y2="153.50" stroke="#555" stroke-width="0.35"/>
<text x="283.20" y="158.40" font-size="4.6" text-anchor="middle" fill="#333" stroke="#333" stroke-width="0.1">3000</text>
<line x1="283.20" y1="152.50" x2="283.20" y2="153.50" stroke="#555" stroke-width="0.35"/>
<text x="299.50" y="158.40" font-size="4.6" text-anchor="middle" fill="#333" stroke="#333" stroke-width="0.1">4000</text>
<line x1="299.50" y1="152.50" x2="299.50" y2="153.50" stroke="#555" stroke-width="0.35"/>
<text x="315.80" y="158.40" font-size="4.6" text-anchor="middle" fill="#333" stroke="#333" stroke-width="0.1">5000</text>
<line x1="315.80" y1="152.50" x2="315.80" y2="153.50" stroke="#555" stroke-width="0.35"/>
<text x="211.10" y="109.60" font-size="5.2" text-anchor="middle" fill="#333" transform="rotate(-90 211.1 109.6)" stroke="#333" stroke-width="0.1">Running</text>
<text x="217.20" y="109.60" font-size="5.2" text-anchor="middle" fill="#333" transform="rotate(-90 217.2 109.6)" stroke="#333" stroke-width="0.1">Enrichment</text>
<text x="223.30" y="109.60" font-size="5.2" text-anchor="middle" fill="#333" transform="rotate(-90 223.29999999999998 109.6)" stroke="#333" stroke-width="0.1">Score</text>
<text x="217.20" y="140.60" font-size="5.2" text-anchor="middle" fill="#333" transform="rotate(-90 217.2 140.6)" stroke="#333" stroke-width="0.1">Ranked</text>
<text x="223.30" y="140.60" font-size="5.2" text-anchor="middle" fill="#333" transform="rotate(-90 223.29999999999998 140.6)" stroke="#333" stroke-width="0.1">List Metric</text>
<line x1="234.50" y1="184.30" x2="234.50" y2="244.50" stroke="#555" stroke-width="0.45"/>
<text x="232.20" y="191.00" font-size="4.0" text-anchor="end" fill="#333" stroke="#333" stroke-width="0.1">0.4</text>
<line x1="233.20" y1="189.70" x2="234.50" y2="189.70" stroke="#555" stroke-width="0.35"/>
<text x="232.20" y="199.00" font-size="4.0" text-anchor="end" fill="#333" stroke="#333" stroke-width="0.1">0.2</text>
<line x1="233.20" y1="197.70" x2="234.50" y2="197.70" stroke="#555" stroke-width="0.35"/>
<text x="232.20" y="207.00" font-size="4.0" text-anchor="end" fill="#333" stroke="#333" stroke-width="0.1">0.0</text>
<line x1="233.20" y1="205.70" x2="234.50" y2="205.70" stroke="#555" stroke-width="0.35"/>
<path d="M234.50,205.70 L234.90,201.10 L236.80,200.30 L239.50,199.50 L240.80,198.40 L243.00,198.90 L244.90,196.20 L246.80,192.20 L247.60,189.50 L250.30,188.60 L253.00,187.60 L255.70,186.00 L258.40,184.90 L260.30,185.40 L267.80,188.10 L281.40,193.00 L284.00,194.90 L292.20,196.80 L311.00,204.30 L321.90,209.70 L325.10,211.90 L326.00,207.00" stroke="#ee3b3b" stroke-width="0.85" fill="none"/>
<text x="240.80" y="210.50" font-size="6.0" fill="#111" stroke="#111" stroke-width="0.1">NES: 1.3291218</text>
<text x="299.70" y="191.90" font-size="4.4" fill="#111" stroke="#111" stroke-width="0.1">p = 0.0781</text>
<text x="299.70" y="196.60" font-size="4.4" fill="#111" stroke="#111" stroke-width="0.1">p.adj = 0.1405</text>
<line x1="235.20" y1="215.00" x2="235.20" y2="223.00" stroke="#000" stroke-width="0.45" stroke-opacity="0.46"/>
<line x1="236.00" y1="215.00" x2="236.00" y2="223.00" stroke="#000" stroke-width="0.45" stroke-opacity="0.71"/>
<line x1="237.40" y1="215.00" x2="237.40" y2="223.00" stroke="#000" stroke-width="0.45" stroke-opacity="0.71"/>
<line x1="238.20" y1="215.00" x2="238.20" y2="223.00" stroke="#000" stroke-width="0.45" stroke-opacity="0.81"/>
<line x1="242.00" y1="215.00" x2="242.00" y2="223.00" stroke="#000" stroke-width="0.45" stroke-opacity="0.41"/>
<line x1="245.20" y1="215.00" x2="245.20" y2="223.00" stroke="#000" stroke-width="0.45" stroke-opacity="0.44"/>
<line x1="246.50" y1="215.00" x2="246.50" y2="223.00" stroke="#000" stroke-width="0.45" stroke-opacity="0.39"/>
<line x1="247.60" y1="215.00" x2="247.60" y2="223.00" stroke="#000" stroke-width="0.45" stroke-opacity="0.44"/>
<line x1="248.80" y1="215.00" x2="248.80" y2="223.00" stroke="#000" stroke-width="0.45" stroke-opacity="0.74"/>
<line x1="253.00" y1="215.00" x2="253.00" y2="223.00" stroke="#000" stroke-width="0.45" stroke-opacity="0.38"/>
<line x1="255.70" y1="215.00" x2="255.70" y2="223.00" stroke="#000" stroke-width="0.45" stroke-opacity="0.62"/>
<line x1="262.40" y1="215.00" x2="262.40" y2="223.00" stroke="#000" stroke-width="0.45" stroke-opacity="0.43"/>
<line x1="268.00" y1="215.00" x2="268.00" y2="223.00" stroke="#000" stroke-width="0.45" stroke-opacity="0.48"/>
<line x1="281.00" y1="215.00" x2="281.00" y2="223.00" stroke="#000" stroke-width="0.45" stroke-opacity="0.56"/>
<line x1="284.00" y1="215.00" x2="284.00" y2="223.00" stroke="#000" stroke-width="0.45" stroke-opacity="0.80"/>
<line x1="301.60" y1="215.00" x2="301.60" y2="223.00" stroke="#000" stroke-width="0.45" stroke-opacity="0.67"/>
<line x1="309.70" y1="215.00" x2="309.70" y2="223.00" stroke="#000" stroke-width="0.45" stroke-opacity="0.31"/>
<line x1="315.00" y1="215.00" x2="315.00" y2="223.00" stroke="#000" stroke-width="0.45" stroke-opacity="0.47"/>
<line x1="323.00" y1="215.00" x2="323.00" y2="223.00" stroke="#000" stroke-width="0.45" stroke-opacity="0.39"/>
<line x1="325.50" y1="215.00" x2="325.50" y2="223.00" stroke="#000" stroke-width="0.45" stroke-opacity="0.82"/>
<defs><linearGradient id="gd1" x1="0" x2="1" y1="0" y2="0"><stop offset="0.000" stop-color="#e8412e"/><stop offset="0.464" stop-color="#ec5a40"/><stop offset="0.486" stop-color="#f3947c"/><stop offset="0.716" stop-color="#f8c4b4"/><stop offset="0.803" stop-color="#ffffff"/><stop offset="0.858" stop-color="#ffffff"/><stop offset="0.869" stop-color="#5f9ad4"/><stop offset="1.000" stop-color="#3a78c0"/></linearGradient></defs>
<rect x="234.50" y="223.00" width="91.50" height="3.00" fill="url(#gd1)" stroke="none" stroke-width="0.5"/>
<text x="235.50" y="230.30" font-size="4.6" font-style="italic" fill="#333" stroke="#333" stroke-width="0.1">SOCS1<tspan font-size="2.9" dy="-1.7">lo</tspan><tspan dy="1.7">/SOCS3</tspan><tspan font-size="2.9" dy="-1.7">lo</tspan></text>
<text x="325.50" y="230.30" font-size="4.3" text-anchor="end" fill="#333" stroke="#333" stroke-width="0.1">Normal</text>
<rect x="234.50" y="231.00" width="91.50" height="13.50" fill="none" stroke="#bbb" stroke-width="0.35"/>
<line x1="250.80" y1="231.00" x2="250.80" y2="244.50" stroke="#eee" stroke-width="0.3"/>
<line x1="267.10" y1="231.00" x2="267.10" y2="244.50" stroke="#eee" stroke-width="0.3"/>
<line x1="283.40" y1="231.00" x2="283.40" y2="244.50" stroke="#eee" stroke-width="0.3"/>
<line x1="299.70" y1="231.00" x2="299.70" y2="244.50" stroke="#eee" stroke-width="0.3"/>
<line x1="316.00" y1="231.00" x2="316.00" y2="244.50" stroke="#eee" stroke-width="0.3"/>
<path d="M234.50,232.20 L234.50,231.30 L237.28,231.45 L240.05,231.53 L242.82,231.59 L245.60,231.64 L248.38,231.69 L251.15,231.74 L253.93,231.78 L256.70,231.82 L259.48,231.86 L262.25,231.89 L265.02,231.93 L267.80,231.96 L270.57,232.00 L273.35,232.03 L276.12,232.06 L278.90,232.09 L281.68,232.12 L284.45,232.14 L287.23,232.17 L290.00,232.20 L291.80,232.20 L293.60,232.21 L295.40,232.22 L297.20,232.23 L299.00,232.25 L300.80,232.27 L302.60,232.30 L304.40,232.33 L306.20,232.37 L308.00,232.42 L309.80,232.47 L311.60,232.53 L313.40,232.59 L315.20,232.66 L317.00,232.73 L318.80,232.81 L320.60,232.90 L322.40,232.99 L324.20,233.09 L326.00,233.20 L326.00,237.00 L326.00,232.20" stroke="none" stroke-width="0" fill="#bdbdbd"/>
<text x="232.70" y="228.40" font-size="4.0" text-anchor="end" fill="#333" stroke="#333" stroke-width="0.1">10</text>
<text x="232.70" y="233.20" font-size="4.0" text-anchor="end" fill="#333" stroke="#333" stroke-width="0.1">0</text>
<text x="232.70" y="236.60" font-size="4.0" text-anchor="end" fill="#333" stroke="#333" stroke-width="0.1">-10</text>
<text x="232.70" y="240.40" font-size="4.0" text-anchor="end" fill="#333" stroke="#333" stroke-width="0.1">-20</text>
<text x="232.70" y="244.20" font-size="4.0" text-anchor="end" fill="#333" stroke="#333" stroke-width="0.1">-30</text>
<text x="211.10" y="192.40" font-size="5.2" text-anchor="middle" fill="#333" transform="rotate(-90 211.1 192.4)" stroke="#333" stroke-width="0.1">Running</text>
<text x="217.20" y="192.40" font-size="5.2" text-anchor="middle" fill="#333" transform="rotate(-90 217.2 192.4)" stroke="#333" stroke-width="0.1">Enrichment</text>
<text x="223.30" y="192.40" font-size="5.2" text-anchor="middle" fill="#333" transform="rotate(-90 223.29999999999998 192.4)" stroke="#333" stroke-width="0.1">Score</text>
<text x="217.20" y="228.40" font-size="5.2" text-anchor="middle" fill="#333" transform="rotate(-90 217.2 228.4)" stroke="#333" stroke-width="0.1">Ranked</text>
<text x="223.30" y="228.40" font-size="5.2" text-anchor="middle" fill="#333" transform="rotate(-90 223.29999999999998 228.4)" stroke="#333" stroke-width="0.1">List Metric</text>
<text x="234.50" y="172.80" font-size="5.2" fill="#111" stroke="#111" stroke-width="0.1">Response_to_increased_oxygen_level</text>
<text x="234.50" y="179.60" font-size="4.5" fill="#ee4444" stroke="#ee4444" stroke-width="0.1">GO:0036296</text>
<line x1="235.00" y1="249.30" x2="235.00" y2="310.00" stroke="#555" stroke-width="0.45"/>
<text x="232.70" y="254.70" font-size="4.0" text-anchor="end" fill="#333" stroke="#333" stroke-width="0.1">0.6</text>
<line x1="233.70" y1="253.40" x2="235.00" y2="253.40" stroke="#555" stroke-width="0.35"/>
<text x="232.70" y="262.30" font-size="4.0" text-anchor="end" fill="#333" stroke="#333" stroke-width="0.1">0.4</text>
<line x1="233.70" y1="261.00" x2="235.00" y2="261.00" stroke="#555" stroke-width="0.35"/>
<text x="232.70" y="269.90" font-size="4.0" text-anchor="end" fill="#333" stroke="#333" stroke-width="0.1">0.2</text>
<line x1="233.70" y1="268.60" x2="235.00" y2="268.60" stroke="#555" stroke-width="0.35"/>
<text x="232.70" y="277.40" font-size="4.0" text-anchor="end" fill="#333" stroke="#333" stroke-width="0.1">0</text>
<line x1="233.70" y1="276.10" x2="235.00" y2="276.10" stroke="#555" stroke-width="0.35"/>
<path d="M234.90,275.30 L236.00,270.70 L236.80,268.00 L238.10,265.30 L240.30,263.40 L242.20,262.60 L243.50,259.90 L244.90,259.10 L246.80,259.10 L248.90,258.00 L250.30,255.80 L252.20,253.10 L254.30,250.40 L255.70,249.90 L258.40,251.00 L262.40,251.80 L270.50,255.30 L284.00,260.70 L297.60,266.10 L311.00,271.50 L321.90,276.10 L325.10,277.40 L326.20,276.10" stroke="#ee3b3b" stroke-width="0.85" fill="none"/>
<text x="240.80" y="275.50" font-size="5.8" font-weight="bold" fill="#111" stroke="#111" stroke-width="0.1">NES: 1.7385050</text>
<text x="297.60" y="256.10" font-size="4.4" font-weight="bold" fill="#111" stroke="#111" stroke-width="0.1">p = 1 ×10<tspan font-size="2.6" dy="-1.7">-4</tspan></text>
<text x="297.60" y="261.50" font-size="4.4" font-weight="bold" fill="#111" stroke="#111" stroke-width="0.1">p.adj = 0.0011</text>
<line x1="236.99" y1="280.40" x2="236.99" y2="288.20" stroke="#000" stroke-width="0.45" stroke-opacity="0.36"/>
<line x1="237.19" y1="280.40" x2="237.19" y2="288.20" stroke="#000" stroke-width="0.45" stroke-opacity="0.72"/>
<line x1="237.72" y1="280.40" x2="237.72" y2="288.20" stroke="#000" stroke-width="0.45" stroke-opacity="0.69"/>
<line x1="238.95" y1="280.40" x2="238.95" y2="288.20" stroke="#000" stroke-width="0.45" stroke-opacity="0.86"/>
<line x1="239.50" y1="280.40" x2="239.50" y2="288.20" stroke="#000" stroke-width="0.45" stroke-opacity="0.46"/>
<line x1="239.57" y1="280.40" x2="239.57" y2="288.20" stroke="#000" stroke-width="0.45" stroke-opacity="0.45"/>
<line x1="239.75" y1="280.40" x2="239.75" y2="288.20" stroke="#000" stroke-width="0.45" stroke-opacity="0.74"/>
<line x1="240.29" y1="280.40" x2="240.29" y2="288.20" stroke="#000" stroke-width="0.45" stroke-opacity="0.70"/>
<line x1="241.21" y1="280.40" x2="241.21" y2="288.20" stroke="#000" stroke-width="0.45" stroke-opacity="0.48"/>
<line x1="241.86" y1="280.40" x2="241.86" y2="288.20" stroke="#000" stroke-width="0.45" stroke-opacity="0.71"/>
<line x1="244.46" y1="280.40" x2="244.46" y2="288.20" stroke="#000" stroke-width="0.45" stroke-opacity="0.54"/>
<line x1="245.81" y1="280.40" x2="245.81" y2="288.20" stroke="#000" stroke-width="0.45" stroke-opacity="0.77"/>
<line x1="246.15" y1="280.40" x2="246.15" y2="288.20" stroke="#000" stroke-width="0.45" stroke-opacity="0.37"/>
<line x1="246.26" y1="280.40" x2="246.26" y2="288.20" stroke="#000" stroke-width="0.45" stroke-opacity="0.43"/>
<line x1="246.36" y1="280.40" x2="246.36" y2="288.20" stroke="#000" stroke-width="0.45" stroke-opacity="0.84"/>
<line x1="246.70" y1="280.40" x2="246.70" y2="288.20" stroke="#000" stroke-width="0.45" stroke-opacity="0.51"/>
<line x1="247.00" y1="280.40" x2="247.00" y2="288.20" stroke="#000" stroke-width="0.45" stroke-opacity="0.46"/>
<line x1="247.53" y1="280.40" x2="247.53" y2="288.20" stroke="#000" stroke-width="0.45" stroke-opacity="0.78"/>
<line x1="248.26" y1="280.40" x2="248.26" y2="288.20" stroke="#000" stroke-width="0.45" stroke-opacity="0.68"/>
<line x1="248.71" y1="280.40" x2="248.71" y2="288.20" stroke="#000" stroke-width="0.45" stroke-opacity="0.39"/>
<line x1="250.34" y1="280.40" x2="250.34" y2="288.20" stroke="#000" stroke-width="0.45" stroke-opacity="0.63"/>
<line x1="251.00" y1="280.40" x2="251.00" y2="288.20" stroke="#000" stroke-width="0.45" stroke-opacity="0.70"/>
<line x1="258.00" y1="280.40" x2="258.00" y2="288.20" stroke="#000" stroke-width="0.45" stroke-opacity="0.40"/>
<line x1="265.00" y1="280.40" x2="265.00" y2="288.20" stroke="#000" stroke-width="0.45" stroke-opacity="0.69"/>
<line x1="285.00" y1="280.40" x2="285.00" y2="288.20" stroke="#000" stroke-width="0.45" stroke-opacity="0.37"/>
<line x1="290.00" y1="280.40" x2="290.00" y2="288.20" stroke="#000" stroke-width="0.45" stroke-opacity="0.50"/>
<line x1="305.00" y1="280.40" x2="305.00" y2="288.20" stroke="#000" stroke-width="0.45" stroke-opacity="0.35"/>
<line x1="311.00" y1="280.40" x2="311.00" y2="288.20" stroke="#000" stroke-width="0.45" stroke-opacity="0.42"/>
<line x1="323.00" y1="280.40" x2="323.00" y2="288.20" stroke="#000" stroke-width="0.45" stroke-opacity="0.89"/>
<line x1="325.60" y1="280.40" x2="325.60" y2="288.20" stroke="#000" stroke-width="0.45" stroke-opacity="0.54"/>
<defs><linearGradient id="gd2" x1="0" x2="1" y1="0" y2="0"><stop offset="0.000" stop-color="#e8412e"/><stop offset="0.440" stop-color="#ea4a35"/><stop offset="0.456" stop-color="#f07c64"/><stop offset="0.714" stop-color="#f5a590"/><stop offset="0.780" stop-color="#fde8e0"/><stop offset="0.808" stop-color="#ffffff"/><stop offset="0.868" stop-color="#ffffff"/><stop offset="0.890" stop-color="#a8c8ea"/><stop offset="0.934" stop-color="#3a7ac4"/><stop offset="1.000" stop-color="#3a78c0"/></linearGradient></defs>
<rect x="235.00" y="288.20" width="91.00" height="3.60" fill="url(#gd2)" stroke="none" stroke-width="0.5"/>
<text x="236.00" y="296.00" font-size="4.6" font-style="italic" fill="#333" stroke="#333" stroke-width="0.1">SOCS1<tspan font-size="2.9" dy="-1.7">lo</tspan><tspan dy="1.7">/SOCS3</tspan><tspan font-size="2.9" dy="-1.7">lo</tspan></text>
<text x="325.50" y="296.20" font-size="4.3" text-anchor="end" fill="#333" stroke="#333" stroke-width="0.1">Normal</text>
<rect x="235.00" y="293.00" width="91.00" height="17.00" fill="none" stroke="#bbb" stroke-width="0.35"/>
<line x1="251.30" y1="293.00" x2="251.30" y2="310.00" stroke="#eee" stroke-width="0.3"/>
<line x1="267.60" y1="293.00" x2="267.60" y2="310.00" stroke="#eee" stroke-width="0.3"/>
<line x1="283.90" y1="293.00" x2="283.90" y2="310.00" stroke="#eee" stroke-width="0.3"/>
<line x1="300.20" y1="293.00" x2="300.20" y2="310.00" stroke="#eee" stroke-width="0.3"/>
<line x1="316.50" y1="293.00" x2="316.50" y2="310.00" stroke="#eee" stroke-width="0.3"/>
<path d="M235.00,300.80 L235.00,296.00 L238.25,296.80 L241.50,297.21 L244.75,297.54 L248.00,297.83 L251.25,298.09 L254.50,298.33 L257.75,298.56 L261.00,298.77 L264.25,298.97 L267.50,299.17 L270.75,299.35 L274.00,299.53 L277.25,299.71 L280.50,299.88 L283.75,300.04 L287.00,300.20 L290.25,300.35 L293.50,300.51 L296.75,300.65 L300.00,300.80 L301.30,300.80 L302.60,300.81 L303.90,300.82 L305.20,300.83 L306.50,300.86 L307.80,300.88 L309.10,300.92 L310.40,300.96 L311.70,301.01 L313.00,301.06 L314.30,301.12 L315.60,301.19 L316.90,301.27 L318.20,301.35 L319.50,301.44 L320.80,301.53 L322.10,301.64 L323.40,301.75 L324.70,301.87 L326.00,302.00 L326.00,303.50 L326.00,300.80" stroke="none" stroke-width="0" fill="#bdbdbd"/>
<text x="233.20" y="295.40" font-size="4.0" text-anchor="end" fill="#333" stroke="#333" stroke-width="0.1">10</text>
<text x="233.20" y="298.40" font-size="4.0" text-anchor="end" fill="#333" stroke="#333" stroke-width="0.1">5</text>
<text x="233.20" y="301.70" font-size="4.0" text-anchor="end" fill="#333" stroke="#333" stroke-width="0.1">0</text>
<text x="233.20" y="305.20" font-size="4.0" text-anchor="end" fill="#333" stroke="#333" stroke-width="0.1">-5</text>
<text x="233.20" y="309.40" font-size="4.0" text-anchor="end" fill="#333" stroke="#333" stroke-width="0.1">-10</text>
<text x="251.30" y="315.60" font-size="4.6" text-anchor="middle" fill="#333" stroke="#333" stroke-width="0.1">1000</text>
<line x1="251.30" y1="310.00" x2="251.30" y2="311.00" stroke="#555" stroke-width="0.35"/>
<text x="267.60" y="315.60" font-size="4.6" text-anchor="middle" fill="#333" stroke="#333" stroke-width="0.1">2000</text>
<line x1="267.60" y1="310.00" x2="267.60" y2="311.00" stroke="#555" stroke-width="0.35"/>
<text x="283.90" y="315.60" font-size="4.6" text-anchor="middle" fill="#333" stroke="#333" stroke-width="0.1">3000</text>
<line x1="283.90" y1="310.00" x2="283.90" y2="311.00" stroke="#555" stroke-width="0.35"/>
<text x="300.20" y="315.60" font-size="4.6" text-anchor="middle" fill="#333" stroke="#333" stroke-width="0.1">4000</text>
<line x1="300.20" y1="310.00" x2="300.20" y2="311.00" stroke="#555" stroke-width="0.35"/>
<text x="316.50" y="315.60" font-size="4.6" text-anchor="middle" fill="#333" stroke="#333" stroke-width="0.1">5000</text>
<line x1="316.50" y1="310.00" x2="316.50" y2="311.00" stroke="#555" stroke-width="0.35"/>
<text x="211.10" y="264.30" font-size="5.2" text-anchor="middle" fill="#333" transform="rotate(-90 211.1 264.3)" stroke="#333" stroke-width="0.1">Running</text>
<text x="217.20" y="264.30" font-size="5.2" text-anchor="middle" fill="#333" transform="rotate(-90 217.2 264.3)" stroke="#333" stroke-width="0.1">Enrichment</text>
<text x="223.30" y="264.30" font-size="5.2" text-anchor="middle" fill="#333" transform="rotate(-90 223.29999999999998 264.3)" stroke="#333" stroke-width="0.1">Score</text>
<text x="217.20" y="298.10" font-size="5.2" text-anchor="middle" fill="#333" transform="rotate(-90 217.2 298.1)" stroke="#333" stroke-width="0.1">Ranked</text>
<text x="223.30" y="298.10" font-size="5.2" text-anchor="middle" fill="#333" transform="rotate(-90 223.29999999999998 298.1)" stroke="#333" stroke-width="0.1">List Metric</text>
<line x1="33.20" y1="327.00" x2="33.20" y2="388.50" stroke="#555" stroke-width="0.45"/>
<text x="30.90" y="338.50" font-size="4.0" text-anchor="end" fill="#333" stroke="#333" stroke-width="0.1">0.2</text>
<line x1="31.90" y1="337.20" x2="33.20" y2="337.20" stroke="#555" stroke-width="0.35"/>
<text x="30.90" y="348.10" font-size="4.0" text-anchor="end" fill="#333" stroke="#333" stroke-width="0.1">0</text>
<line x1="31.90" y1="346.80" x2="33.20" y2="346.80" stroke="#555" stroke-width="0.35"/>
<text x="30.90" y="358.10" font-size="4.0" text-anchor="end" fill="#333" stroke="#333" stroke-width="0.1">-0.2</text>
<line x1="31.90" y1="356.80" x2="33.20" y2="356.80" stroke="#555" stroke-width="0.35"/>
<path d="M33.20,346.30 L33.90,339.60 L35.60,334.20 L37.50,332.30 L41.50,333.40 L45.60,332.30 L49.60,331.50 L53.70,330.90 L57.70,330.10 L61.00,329.60 L64.50,330.60 L71.20,332.80 L82.00,338.20 L95.60,345.00 L109.10,351.70 L117.20,354.40 L121.20,355.80 L123.10,353.90 L124.20,347.70" stroke="#ee3b3b" stroke-width="0.85" fill="none"/>
<text x="42.00" y="352.50" font-size="6.0" fill="#111" stroke="#111" stroke-width="0.1">NES:1.0801143</text>
<text x="97.70" y="334.40" font-size="4.4" fill="#111" stroke="#111" stroke-width="0.1">p = 0.333</text>
<text x="97.70" y="339.30" font-size="4.4" fill="#111" stroke="#111" stroke-width="0.1">p.adj = 0.8325</text>
<line x1="33.98" y1="358.20" x2="33.98" y2="366.80" stroke="#000" stroke-width="0.45" stroke-opacity="0.88"/>
<line x1="34.20" y1="358.20" x2="34.20" y2="366.80" stroke="#000" stroke-width="0.45" stroke-opacity="0.31"/>
<line x1="34.28" y1="358.20" x2="34.28" y2="366.80" stroke="#000" stroke-width="0.45" stroke-opacity="0.74"/>
<line x1="35.47" y1="358.20" x2="35.47" y2="366.80" stroke="#000" stroke-width="0.45" stroke-opacity="0.39"/>
<line x1="36.58" y1="358.20" x2="36.58" y2="366.80" stroke="#000" stroke-width="0.45" stroke-opacity="0.89"/>
<line x1="36.78" y1="358.20" x2="36.78" y2="366.80" stroke="#000" stroke-width="0.45" stroke-opacity="0.31"/>
<line x1="37.64" y1="358.20" x2="37.64" y2="366.80" stroke="#000" stroke-width="0.45" stroke-opacity="0.83"/>
<line x1="38.29" y1="358.20" x2="38.29" y2="366.80" stroke="#000" stroke-width="0.45" stroke-opacity="0.71"/>
<line x1="38.32" y1="358.20" x2="38.32" y2="366.80" stroke="#000" stroke-width="0.45" stroke-opacity="0.81"/>
<line x1="39.32" y1="358.20" x2="39.32" y2="366.80" stroke="#000" stroke-width="0.45" stroke-opacity="0.90"/>
<line x1="40.06" y1="358.20" x2="40.06" y2="366.80" stroke="#000" stroke-width="0.45" stroke-opacity="0.44"/>
<line x1="40.65" y1="358.20" x2="40.65" y2="366.80" stroke="#000" stroke-width="0.45" stroke-opacity="0.50"/>
<line x1="40.94" y1="358.20" x2="40.94" y2="366.80" stroke="#000" stroke-width="0.45" stroke-opacity="0.72"/>
<line x1="42.77" y1="358.20" x2="42.77" y2="366.80" stroke="#000" stroke-width="0.45" stroke-opacity="0.47"/>
<line x1="42.99" y1="358.20" x2="42.99" y2="366.80" stroke="#000" stroke-width="0.45" stroke-opacity="0.46"/>
<line x1="43.10" y1="358.20" x2="43.10" y2="366.80" stroke="#000" stroke-width="0.45" stroke-opacity="0.44"/>
<line x1="43.26" y1="358.20" x2="43.26" y2="366.80" stroke="#000" stroke-width="0.45" stroke-opacity="0.81"/>
<line x1="43.45" y1="358.20" x2="43.45" y2="366.80" stroke="#000" stroke-width="0.45" stroke-opacity="0.82"/>
<line x1="44.43" y1="358.20" x2="44.43" y2="366.80" stroke="#000" stroke-width="0.45" stroke-opacity="0.78"/>
<line x1="45.14" y1="358.20" x2="45.14" y2="366.80" stroke="#000" stroke-width="0.45" stroke-opacity="0.43"/>
<line x1="45.39" y1="358.20" x2="45.39" y2="366.80" stroke="#000" stroke-width="0.45" stroke-opacity="0.85"/>
<line x1="46.42" y1="358.20" x2="46.42" y2="366.80" stroke="#000" stroke-width="0.45" stroke-opacity="0.61"/>
<line x1="46.71" y1="358.20" x2="46.71" y2="366.80" stroke="#000" stroke-width="0.45" stroke-opacity="0.44"/>
<line x1="47.45" y1="358.20" x2="47.45" y2="366.80" stroke="#000" stroke-width="0.45" stroke-opacity="0.57"/>
<line x1="47.53" y1="358.20" x2="47.53" y2="366.80" stroke="#000" stroke-width="0.45" stroke-opacity="0.55"/>
<line x1="48.18" y1="358.20" x2="48.18" y2="366.80" stroke="#000" stroke-width="0.45" stroke-opacity="0.35"/>
<line x1="48.44" y1="358.20" x2="48.44" y2="366.80" stroke="#000" stroke-width="0.45" stroke-opacity="0.64"/>
<line x1="49.11" y1="358.20" x2="49.11" y2="366.80" stroke="#000" stroke-width="0.45" stroke-opacity="0.52"/>
<line x1="50.16" y1="358.20" x2="50.16" y2="366.80" stroke="#000" stroke-width="0.45" stroke-opacity="0.64"/>
<line x1="50.31" y1="358.20" x2="50.31" y2="366.80" stroke="#000" stroke-width="0.45" stroke-opacity="0.86"/>
<line x1="50.92" y1="358.20" x2="50.92" y2="366.80" stroke="#000" stroke-width="0.45" stroke-opacity="0.69"/>
<line x1="51.82" y1="358.20" x2="51.82" y2="366.80" stroke="#000" stroke-width="0.45" stroke-opacity="0.54"/>
<line x1="52.40" y1="358.20" x2="52.40" y2="366.80" stroke="#000" stroke-width="0.45" stroke-opacity="0.82"/>
<line x1="52.95" y1="358.20" x2="52.95" y2="366.80" stroke="#000" stroke-width="0.45" stroke-opacity="0.90"/>
<line x1="53.19" y1="358.20" x2="53.19" y2="366.80" stroke="#000" stroke-width="0.45" stroke-opacity="0.59"/>
<line x1="53.85" y1="358.20" x2="53.85" y2="366.80" stroke="#000" stroke-width="0.45" stroke-opacity="0.87"/>
<line x1="53.94" y1="358.20" x2="53.94" y2="366.80" stroke="#000" stroke-width="0.45" stroke-opacity="0.31"/>
<line x1="54.04" y1="358.20" x2="54.04" y2="366.80" stroke="#000" stroke-width="0.45" stroke-opacity="0.38"/>
<line x1="54.34" y1="358.20" x2="54.34" y2="366.80" stroke="#000" stroke-width="0.45" stroke-opacity="0.40"/>
<line x1="54.72" y1="358.20" x2="54.72" y2="366.80" stroke="#000" stroke-width="0.45" stroke-opacity="0.86"/>
<line x1="56.53" y1="358.20" x2="56.53" y2="366.80" stroke="#000" stroke-width="0.45" stroke-opacity="0.71"/>
<line x1="56.93" y1="358.20" x2="56.93" y2="366.80" stroke="#000" stroke-width="0.45" stroke-opacity="0.73"/>
<line x1="57.14" y1="358.20" x2="57.14" y2="366.80" stroke="#000" stroke-width="0.45" stroke-opacity="0.47"/>
<line x1="60.29" y1="358.20" x2="60.29" y2="366.80" stroke="#000" stroke-width="0.45" stroke-opacity="0.60"/>
<line x1="61.78" y1="358.20" x2="61.78" y2="366.80" stroke="#000" stroke-width="0.45" stroke-opacity="0.83"/>
<line x1="62.16" y1="358.20" x2="62.16" y2="366.80" stroke="#000" stroke-width="0.45" stroke-opacity="0.36"/>
<line x1="62.89" y1="358.20" x2="62.89" y2="366.80" stroke="#000" stroke-width="0.45" stroke-opacity="0.37"/>
<line x1="63.34" y1="358.20" x2="63.34" y2="366.80" stroke="#000" stroke-width="0.45" stroke-opacity="0.33"/>
<line x1="64.04" y1="358.20" x2="64.04" y2="366.80" stroke="#000" stroke-width="0.45" stroke-opacity="0.58"/>
<line x1="66.54" y1="358.20" x2="66.54" y2="366.80" stroke="#000" stroke-width="0.45" stroke-opacity="0.80"/>
<line x1="66.60" y1="358.20" x2="66.60" y2="366.80" stroke="#000" stroke-width="0.45" stroke-opacity="0.63"/>
<line x1="67.73" y1="358.20" x2="67.73" y2="366.80" stroke="#000" stroke-width="0.45" stroke-opacity="0.54"/>
<line x1="68.38" y1="358.20" x2="68.38" y2="366.80" stroke="#000" stroke-width="0.45" stroke-opacity="0.60"/>
<line x1="69.08" y1="358.20" x2="69.08" y2="366.80" stroke="#000" stroke-width="0.45" stroke-opacity="0.41"/>
<line x1="69.10" y1="358.20" x2="69.10" y2="366.80" stroke="#000" stroke-width="0.45" stroke-opacity="0.87"/>
<line x1="69.34" y1="358.20" x2="69.34" y2="366.80" stroke="#000" stroke-width="0.45" stroke-opacity="0.51"/>
<line x1="69.79" y1="358.20" x2="69.79" y2="366.80" stroke="#000" stroke-width="0.45" stroke-opacity="0.44"/>
<line x1="70.00" y1="358.20" x2="70.00" y2="366.80" stroke="#000" stroke-width="0.45" stroke-opacity="0.49"/>
<line x1="70.31" y1="358.20" x2="70.31" y2="366.80" stroke="#000" stroke-width="0.45" stroke-opacity="0.79"/>
<line x1="71.05" y1="358.20" x2="71.05" y2="366.80" stroke="#000" stroke-width="0.45" stroke-opacity="0.49"/>
<line x1="71.16" y1="358.20" x2="71.16" y2="366.80" stroke="#000" stroke-width="0.45" stroke-opacity="0.84"/>
<line x1="71.88" y1="358.20" x2="71.88" y2="366.80" stroke="#000" stroke-width="0.45" stroke-opacity="0.50"/>
<line x1="72.10" y1="358.20" x2="72.10" y2="366.80" stroke="#000" stroke-width="0.45" stroke-opacity="0.56"/>
<line x1="72.43" y1="358.20" x2="72.43" y2="366.80" stroke="#000" stroke-width="0.45" stroke-opacity="0.34"/>
<line x1="72.72" y1="358.20" x2="72.72" y2="366.80" stroke="#000" stroke-width="0.45" stroke-opacity="0.84"/>
<line x1="72.85" y1="358.20" x2="72.85" y2="366.80" stroke="#000" stroke-width="0.45" stroke-opacity="0.78"/>
<line x1="73.56" y1="358.20" x2="73.56" y2="366.80" stroke="#000" stroke-width="0.45" stroke-opacity="0.58"/>
<line x1="74.43" y1="358.20" x2="74.43" y2="366.80" stroke="#000" stroke-width="0.45" stroke-opacity="0.37"/>
<line x1="74.80" y1="358.20" x2="74.80" y2="366.80" stroke="#000" stroke-width="0.45" stroke-opacity="0.60"/>
<line x1="74.99" y1="358.20" x2="74.99" y2="366.80" stroke="#000" stroke-width="0.45" stroke-opacity="0.53"/>
<line x1="90.20" y1="358.20" x2="90.20" y2="366.80" stroke="#000" stroke-width="0.45" stroke-opacity="0.80"/>
<line x1="101.00" y1="358.20" x2="101.00" y2="366.80" stroke="#000" stroke-width="0.45" stroke-opacity="0.86"/>
<line x1="108.17" y1="358.20" x2="108.17" y2="366.80" stroke="#000" stroke-width="0.45" stroke-opacity="0.74"/>
<line x1="108.45" y1="358.20" x2="108.45" y2="366.80" stroke="#000" stroke-width="0.45" stroke-opacity="0.47"/>
<line x1="108.72" y1="358.20" x2="108.72" y2="366.80" stroke="#000" stroke-width="0.45" stroke-opacity="0.32"/>
<line x1="110.31" y1="358.20" x2="110.31" y2="366.80" stroke="#000" stroke-width="0.45" stroke-opacity="0.84"/>
<line x1="111.66" y1="358.20" x2="111.66" y2="366.80" stroke="#000" stroke-width="0.45" stroke-opacity="0.87"/>
<line x1="112.13" y1="358.20" x2="112.13" y2="366.80" stroke="#000" stroke-width="0.45" stroke-opacity="0.40"/>
<line x1="112.21" y1="358.20" x2="112.21" y2="366.80" stroke="#000" stroke-width="0.45" stroke-opacity="0.60"/>
<line x1="112.22" y1="358.20" x2="112.22" y2="366.80" stroke="#000" stroke-width="0.45" stroke-opacity="0.59"/>
<line x1="112.78" y1="358.20" x2="112.78" y2="366.80" stroke="#000" stroke-width="0.45" stroke-opacity="0.89"/>
<line x1="112.83" y1="358.20" x2="112.83" y2="366.80" stroke="#000" stroke-width="0.45" stroke-opacity="0.33"/>
<line x1="112.92" y1="358.20" x2="112.92" y2="366.80" stroke="#000" stroke-width="0.45" stroke-opacity="0.34"/>
<line x1="113.05" y1="358.20" x2="113.05" y2="366.80" stroke="#000" stroke-width="0.45" stroke-opacity="0.81"/>
<line x1="113.05" y1="358.20" x2="113.05" y2="366.80" stroke="#000" stroke-width="0.45" stroke-opacity="0.64"/>
<line x1="113.46" y1="358.20" x2="113.46" y2="366.80" stroke="#000" stroke-width="0.45" stroke-opacity="0.58"/>
<line x1="113.67" y1="358.20" x2="113.67" y2="366.80" stroke="#000" stroke-width="0.45" stroke-opacity="0.77"/>
<line x1="113.89" y1="358.20" x2="113.89" y2="366.80" stroke="#000" stroke-width="0.45" stroke-opacity="0.66"/>
<line x1="114.68" y1="358.20" x2="114.68" y2="366.80" stroke="#000" stroke-width="0.45" stroke-opacity="0.72"/>
<line x1="114.80" y1="358.20" x2="114.80" y2="366.80" stroke="#000" stroke-width="0.45" stroke-opacity="0.45"/>
<line x1="114.90" y1="358.20" x2="114.90" y2="366.80" stroke="#000" stroke-width="0.45" stroke-opacity="0.35"/>
<line x1="115.28" y1="358.20" x2="115.28" y2="366.80" stroke="#000" stroke-width="0.45" stroke-opacity="0.31"/>
<line x1="115.45" y1="358.20" x2="115.45" y2="366.80" stroke="#000" stroke-width="0.45" stroke-opacity="0.50"/>
<line x1="115.83" y1="358.20" x2="115.83" y2="366.80" stroke="#000" stroke-width="0.45" stroke-opacity="0.69"/>
<line x1="118.22" y1="358.20" x2="118.22" y2="366.80" stroke="#000" stroke-width="0.45" stroke-opacity="0.53"/>
<line x1="118.35" y1="358.20" x2="118.35" y2="366.80" stroke="#000" stroke-width="0.45" stroke-opacity="0.51"/>
<line x1="118.48" y1="358.20" x2="118.48" y2="366.80" stroke="#000" stroke-width="0.45" stroke-opacity="0.67"/>
<line x1="118.72" y1="358.20" x2="118.72" y2="366.80" stroke="#000" stroke-width="0.45" stroke-opacity="0.72"/>
<line x1="118.88" y1="358.20" x2="118.88" y2="366.80" stroke="#000" stroke-width="0.45" stroke-opacity="0.66"/>
<line x1="120.12" y1="358.20" x2="120.12" y2="366.80" stroke="#000" stroke-width="0.45" stroke-opacity="0.49"/>
<line x1="120.84" y1="358.20" x2="120.84" y2="366.80" stroke="#000" stroke-width="0.45" stroke-opacity="0.79"/>
<line x1="120.86" y1="358.20" x2="120.86" y2="366.80" stroke="#000" stroke-width="0.45" stroke-opacity="0.78"/>
<line x1="121.16" y1="358.20" x2="121.16" y2="366.80" stroke="#000" stroke-width="0.45" stroke-opacity="0.84"/>
<line x1="122.56" y1="358.20" x2="122.56" y2="366.80" stroke="#000" stroke-width="0.45" stroke-opacity="0.84"/>
<line x1="123.46" y1="358.20" x2="123.46" y2="366.80" stroke="#000" stroke-width="0.45" stroke-opacity="0.31"/>
<line x1="123.59" y1="358.20" x2="123.59" y2="366.80" stroke="#000" stroke-width="0.45" stroke-opacity="0.70"/>
<defs><linearGradient id="ge1" x1="0" x2="1" y1="0" y2="0"><stop offset="0.000" stop-color="#e8503c"/><stop offset="0.042" stop-color="#ee7a62"/><stop offset="0.294" stop-color="#f0907a"/><stop offset="0.556" stop-color="#f4a088"/><stop offset="0.622" stop-color="#f9d2c6"/><stop offset="0.699" stop-color="#fdf0ec"/><stop offset="0.721" stop-color="#ffffff"/><stop offset="0.743" stop-color="#ffffff"/><stop offset="0.765" stop-color="#cfe2f3"/><stop offset="0.852" stop-color="#9cc4e8"/><stop offset="0.874" stop-color="#4a88cc"/><stop offset="1.000" stop-color="#3a78c0"/></linearGradient></defs>
<rect x="33.20" y="366.80" width="91.30" height="3.00" fill="url(#ge1)" stroke="none" stroke-width="0.5"/>
<text x="35.00" y="373.00" font-size="4.6" font-style="italic" fill="#333" stroke="#333" stroke-width="0.1">SOCS1<tspan font-size="2.9" dy="-1.7">lo</tspan><tspan dy="1.7">/SOCS3</tspan><tspan font-size="2.9" dy="-1.7">lo</tspan></text>
<text x="124.00" y="373.20" font-size="4.3" text-anchor="end" fill="#333" stroke="#333" stroke-width="0.1">Normal</text>
<rect x="33.20" y="372.00" width="91.30" height="16.50" fill="none" stroke="#bbb" stroke-width="0.35"/>
<line x1="49.50" y1="372.00" x2="49.50" y2="388.50" stroke="#eee" stroke-width="0.3"/>
<line x1="65.80" y1="372.00" x2="65.80" y2="388.50" stroke="#eee" stroke-width="0.3"/>
<line x1="82.10" y1="372.00" x2="82.10" y2="388.50" stroke="#eee" stroke-width="0.3"/>
<line x1="98.40" y1="372.00" x2="98.40" y2="388.50" stroke="#eee" stroke-width="0.3"/>
<line x1="114.70" y1="372.00" x2="114.70" y2="388.50" stroke="#eee" stroke-width="0.3"/>
<path d="M33.20,374.90 L33.20,373.80 L36.54,373.98 L39.88,374.08 L43.22,374.15 L46.56,374.22 L49.90,374.28 L53.24,374.33 L56.58,374.39 L59.92,374.43 L63.26,374.48 L66.60,374.53 L69.94,374.57 L73.28,374.61 L76.62,374.65 L79.96,374.69 L83.30,374.73 L86.64,374.76 L89.98,374.80 L93.32,374.83 L96.66,374.87 L100.00,374.90 L101.22,374.90 L102.45,374.90 L103.67,374.91 L104.90,374.92 L106.12,374.93 L107.35,374.95 L108.58,374.97 L109.80,374.99 L111.03,375.02 L112.25,375.05 L113.47,375.09 L114.70,375.13 L115.92,375.17 L117.15,375.22 L118.38,375.27 L119.60,375.33 L120.83,375.39 L122.05,375.46 L123.28,375.53 L124.50,375.60 L124.50,377.50 L124.50,374.90" stroke="none" stroke-width="0" fill="#bdbdbd"/>
<text x="31.40" y="372.20" font-size="4.0" text-anchor="end" fill="#333" stroke="#333" stroke-width="0.1">10</text>
<text x="31.40" y="376.00" font-size="4.0" text-anchor="end" fill="#333" stroke="#333" stroke-width="0.1">0</text>
<text x="31.40" y="380.10" font-size="4.0" text-anchor="end" fill="#333" stroke="#333" stroke-width="0.1">-10</text>
<text x="31.40" y="384.40" font-size="4.0" text-anchor="end" fill="#333" stroke="#333" stroke-width="0.1">-20</text>
<text x="31.40" y="388.30" font-size="4.0" text-anchor="end" fill="#333" stroke="#333" stroke-width="0.1">-30</text>
<text x="49.50" y="393.60" font-size="4.6" text-anchor="middle" fill="#333" stroke="#333" stroke-width="0.1">1000</text>
<line x1="49.50" y1="388.50" x2="49.50" y2="389.50" stroke="#555" stroke-width="0.35"/>
<text x="65.80" y="393.60" font-size="4.6" text-anchor="middle" fill="#333" stroke="#333" stroke-width="0.1">2000</text>
<line x1="65.80" y1="388.50" x2="65.80" y2="389.50" stroke="#555" stroke-width="0.35"/>
<text x="82.10" y="393.60" font-size="4.6" text-anchor="middle" fill="#333" stroke="#333" stroke-width="0.1">3000</text>
<line x1="82.10" y1="388.50" x2="82.10" y2="389.50" stroke="#555" stroke-width="0.35"/>
<text x="98.40" y="393.60" font-size="4.6" text-anchor="middle" fill="#333" stroke="#333" stroke-width="0.1">4000</text>
<line x1="98.40" y1="388.50" x2="98.40" y2="389.50" stroke="#555" stroke-width="0.35"/>
<text x="114.70" y="393.60" font-size="4.6" text-anchor="middle" fill="#333" stroke="#333" stroke-width="0.1">5000</text>
<line x1="114.70" y1="388.50" x2="114.70" y2="389.50" stroke="#555" stroke-width="0.35"/>
<text x="8.20" y="348.50" font-size="5.2" text-anchor="middle" fill="#333" transform="rotate(-90 8.2 348.5)" stroke="#333" stroke-width="0.1">Running</text>
<text x="14.30" y="348.50" font-size="5.2" text-anchor="middle" fill="#333" transform="rotate(-90 14.299999999999999 348.5)" stroke="#333" stroke-width="0.1">Enrichment</text>
<text x="20.40" y="348.50" font-size="5.2" text-anchor="middle" fill="#333" transform="rotate(-90 20.4 348.5)" stroke="#333" stroke-width="0.1">Score</text>
<text x="14.30" y="380.80" font-size="5.2" text-anchor="middle" fill="#333" transform="rotate(-90 14.299999999999999 380.8)" stroke="#333" stroke-width="0.1">Ranked</text>
<text x="20.40" y="380.80" font-size="5.2" text-anchor="middle" fill="#333" transform="rotate(-90 20.4 380.8)" stroke="#333" stroke-width="0.1">List Metric</text>
<text x="33.50" y="322.00" font-size="5.2" fill="#111" stroke="#111" stroke-width="0.1">Polonen_NRF2 signature</text>
<line x1="140.60" y1="326.50" x2="140.60" y2="388.50" stroke="#555" stroke-width="0.45"/>
<text x="138.30" y="329.70" font-size="4.0" text-anchor="end" fill="#333" stroke="#333" stroke-width="0.1">0.5</text>
<line x1="139.30" y1="328.40" x2="140.60" y2="328.40" stroke="#555" stroke-width="0.35"/>
<text x="138.30" y="334.40" font-size="4.0" text-anchor="end" fill="#333" stroke="#333" stroke-width="0.1">0.4</text>
<line x1="139.30" y1="333.10" x2="140.60" y2="333.10" stroke="#555" stroke-width="0.35"/>
<text x="138.30" y="339.10" font-size="4.0" text-anchor="end" fill="#333" stroke="#333" stroke-width="0.1">0.3</text>
<line x1="139.30" y1="337.80" x2="140.60" y2="337.80" stroke="#555" stroke-width="0.35"/>
<text x="138.30" y="343.90" font-size="4.0" text-anchor="end" fill="#333" stroke="#333" stroke-width="0.1">0.2</text>
<line x1="139.30" y1="342.60" x2="140.60" y2="342.60" stroke="#555" stroke-width="0.35"/>
<text x="138.30" y="348.60" font-size="4.0" text-anchor="end" fill="#333" stroke="#333" stroke-width="0.1">0.1</text>
<line x1="139.30" y1="347.30" x2="140.60" y2="347.30" stroke="#555" stroke-width="0.35"/>
<text x="138.30" y="353.30" font-size="4.0" text-anchor="end" fill="#333" stroke="#333" stroke-width="0.1">0.0</text>
<line x1="139.30" y1="352.00" x2="140.60" y2="352.00" stroke="#555" stroke-width="0.35"/>
<path d="M140.60,350.40 L142.80,345.00 L145.50,340.40 L149.50,336.10 L153.60,332.80 L157.60,330.60 L163.00,328.80 L167.10,328.00 L169.00,327.40 L171.10,328.50 L179.20,331.50 L190.00,336.90 L203.60,343.60 L217.10,349.60 L227.90,353.90 L230.60,355.20 L232.20,353.10" stroke="#ee3b3b" stroke-width="0.85" fill="none"/>
<text x="150.00" y="352.50" font-size="5.8" font-weight="bold" fill="#111" stroke="#111" stroke-width="0.1">NES:1.4661141</text>
<text x="206.40" y="334.60" font-size="4.4" font-weight="bold" fill="#111" stroke="#111" stroke-width="0.1">p = 1e-04</text>
<text x="206.40" y="340.00" font-size="4.4" font-weight="bold" fill="#111" stroke="#111" stroke-width="0.1">p.adj = 5e-04</text>
<line x1="141.38" y1="357.60" x2="141.38" y2="366.20" stroke="#000" stroke-width="0.45" stroke-opacity="0.61"/>
<line x1="141.70" y1="357.60" x2="141.70" y2="366.20" stroke="#000" stroke-width="0.45" stroke-opacity="0.78"/>
<line x1="142.05" y1="357.60" x2="142.05" y2="366.20" stroke="#000" stroke-width="0.45" stroke-opacity="0.88"/>
<line x1="143.02" y1="357.60" x2="143.02" y2="366.20" stroke="#000" stroke-width="0.45" stroke-opacity="0.47"/>
<line x1="143.43" y1="357.60" x2="143.43" y2="366.20" stroke="#000" stroke-width="0.45" stroke-opacity="0.76"/>
<line x1="144.19" y1="357.60" x2="144.19" y2="366.20" stroke="#000" stroke-width="0.45" stroke-opacity="0.72"/>
<line x1="145.30" y1="357.60" x2="145.30" y2="366.20" stroke="#000" stroke-width="0.45" stroke-opacity="0.70"/>
<line x1="146.05" y1="357.60" x2="146.05" y2="366.20" stroke="#000" stroke-width="0.45" stroke-opacity="0.37"/>
<line x1="146.52" y1="357.60" x2="146.52" y2="366.20" stroke="#000" stroke-width="0.45" stroke-opacity="0.32"/>
<line x1="146.89" y1="357.60" x2="146.89" y2="366.20" stroke="#000" stroke-width="0.45" stroke-opacity="0.53"/>
<line x1="148.52" y1="357.60" x2="148.52" y2="366.20" stroke="#000" stroke-width="0.45" stroke-opacity="0.75"/>
<line x1="149.19" y1="357.60" x2="149.19" y2="366.20" stroke="#000" stroke-width="0.45" stroke-opacity="0.45"/>
<line x1="150.32" y1="357.60" x2="150.32" y2="366.20" stroke="#000" stroke-width="0.45" stroke-opacity="0.60"/>
<line x1="150.84" y1="357.60" x2="150.84" y2="366.20" stroke="#000" stroke-width="0.45" stroke-opacity="0.49"/>
<line x1="151.42" y1="357.60" x2="151.42" y2="366.20" stroke="#000" stroke-width="0.45" stroke-opacity="0.81"/>
<line x1="151.63" y1="357.60" x2="151.63" y2="366.20" stroke="#000" stroke-width="0.45" stroke-opacity="0.87"/>
<line x1="152.30" y1="357.60" x2="152.30" y2="366.20" stroke="#000" stroke-width="0.45" stroke-opacity="0.54"/>
<line x1="153.06" y1="357.60" x2="153.06" y2="366.20" stroke="#000" stroke-width="0.45" stroke-opacity="0.90"/>
<line x1="153.38" y1="357.60" x2="153.38" y2="366.20" stroke="#000" stroke-width="0.45" stroke-opacity="0.34"/>
<line x1="153.44" y1="357.60" x2="153.44" y2="366.20" stroke="#000" stroke-width="0.45" stroke-opacity="0.79"/>
<line x1="153.95" y1="357.60" x2="153.95" y2="366.20" stroke="#000" stroke-width="0.45" stroke-opacity="0.83"/>
<line x1="154.57" y1="357.60" x2="154.57" y2="366.20" stroke="#000" stroke-width="0.45" stroke-opacity="0.39"/>
<line x1="154.83" y1="357.60" x2="154.83" y2="366.20" stroke="#000" stroke-width="0.45" stroke-opacity="0.72"/>
<line x1="155.03" y1="357.60" x2="155.03" y2="366.20" stroke="#000" stroke-width="0.45" stroke-opacity="0.64"/>
<line x1="155.52" y1="357.60" x2="155.52" y2="366.20" stroke="#000" stroke-width="0.45" stroke-opacity="0.87"/>
<line x1="155.62" y1="357.60" x2="155.62" y2="366.20" stroke="#000" stroke-width="0.45" stroke-opacity="0.43"/>
<line x1="155.98" y1="357.60" x2="155.98" y2="366.20" stroke="#000" stroke-width="0.45" stroke-opacity="0.62"/>
<line x1="156.66" y1="357.60" x2="156.66" y2="366.20" stroke="#000" stroke-width="0.45" stroke-opacity="0.83"/>
<line x1="159.22" y1="357.60" x2="159.22" y2="366.20" stroke="#000" stroke-width="0.45" stroke-opacity="0.68"/>
<line x1="159.49" y1="357.60" x2="159.49" y2="366.20" stroke="#000" stroke-width="0.45" stroke-opacity="0.49"/>
<line x1="160.56" y1="357.60" x2="160.56" y2="366.20" stroke="#000" stroke-width="0.45" stroke-opacity="0.35"/>
<line x1="161.36" y1="357.60" x2="161.36" y2="366.20" stroke="#000" stroke-width="0.45" stroke-opacity="0.86"/>
<line x1="161.55" y1="357.60" x2="161.55" y2="366.20" stroke="#000" stroke-width="0.45" stroke-opacity="0.58"/>
<line x1="162.06" y1="357.60" x2="162.06" y2="366.20" stroke="#000" stroke-width="0.45" stroke-opacity="0.90"/>
<line x1="162.59" y1="357.60" x2="162.59" y2="366.20" stroke="#000" stroke-width="0.45" stroke-opacity="0.38"/>
<line x1="162.67" y1="357.60" x2="162.67" y2="366.20" stroke="#000" stroke-width="0.45" stroke-opacity="0.79"/>
<line x1="162.72" y1="357.60" x2="162.72" y2="366.20" stroke="#000" stroke-width="0.45" stroke-opacity="0.79"/>
<line x1="162.80" y1="357.60" x2="162.80" y2="366.20" stroke="#000" stroke-width="0.45" stroke-opacity="0.85"/>
<line x1="163.56" y1="357.60" x2="163.56" y2="366.20" stroke="#000" stroke-width="0.45" stroke-opacity="0.31"/>
<line x1="164.55" y1="357.60" x2="164.55" y2="366.20" stroke="#000" stroke-width="0.45" stroke-opacity="0.52"/>
<line x1="165.91" y1="357.60" x2="165.91" y2="366.20" stroke="#000" stroke-width="0.45" stroke-opacity="0.33"/>
<line x1="166.68" y1="357.60" x2="166.68" y2="366.20" stroke="#000" stroke-width="0.45" stroke-opacity="0.75"/>
<line x1="166.79" y1="357.60" x2="166.79" y2="366.20" stroke="#000" stroke-width="0.45" stroke-opacity="0.51"/>
<line x1="168.46" y1="357.60" x2="168.46" y2="366.20" stroke="#000" stroke-width="0.45" stroke-opacity="0.88"/>
<line x1="168.52" y1="357.60" x2="168.52" y2="366.20" stroke="#000" stroke-width="0.45" stroke-opacity="0.52"/>
<line x1="170.11" y1="357.60" x2="170.11" y2="366.20" stroke="#000" stroke-width="0.45" stroke-opacity="0.76"/>
<line x1="170.33" y1="357.60" x2="170.33" y2="366.20" stroke="#000" stroke-width="0.45" stroke-opacity="0.82"/>
<line x1="170.38" y1="357.60" x2="170.38" y2="366.20" stroke="#000" stroke-width="0.45" stroke-opacity="0.44"/>
<line x1="170.88" y1="357.60" x2="170.88" y2="366.20" stroke="#000" stroke-width="0.45" stroke-opacity="0.63"/>
<line x1="171.20" y1="357.60" x2="171.20" y2="366.20" stroke="#000" stroke-width="0.45" stroke-opacity="0.87"/>
<line x1="171.67" y1="357.60" x2="171.67" y2="366.20" stroke="#000" stroke-width="0.45" stroke-opacity="0.62"/>
<line x1="172.46" y1="357.60" x2="172.46" y2="366.20" stroke="#000" stroke-width="0.45" stroke-opacity="0.52"/>
<line x1="172.68" y1="357.60" x2="172.68" y2="366.20" stroke="#000" stroke-width="0.45" stroke-opacity="0.46"/>
<line x1="172.69" y1="357.60" x2="172.69" y2="366.20" stroke="#000" stroke-width="0.45" stroke-opacity="0.77"/>
<line x1="172.72" y1="357.60" x2="172.72" y2="366.20" stroke="#000" stroke-width="0.45" stroke-opacity="0.42"/>
<line x1="174.01" y1="357.60" x2="174.01" y2="366.20" stroke="#000" stroke-width="0.45" stroke-opacity="0.66"/>
<line x1="174.84" y1="357.60" x2="174.84" y2="366.20" stroke="#000" stroke-width="0.45" stroke-opacity="0.63"/>
<line x1="175.14" y1="357.60" x2="175.14" y2="366.20" stroke="#000" stroke-width="0.45" stroke-opacity="0.63"/>
<line x1="175.42" y1="357.60" x2="175.42" y2="366.20" stroke="#000" stroke-width="0.45" stroke-opacity="0.38"/>
<line x1="176.45" y1="357.60" x2="176.45" y2="366.20" stroke="#000" stroke-width="0.45" stroke-opacity="0.70"/>
<line x1="176.74" y1="357.60" x2="176.74" y2="366.20" stroke="#000" stroke-width="0.45" stroke-opacity="0.85"/>
<line x1="176.88" y1="357.60" x2="176.88" y2="366.20" stroke="#000" stroke-width="0.45" stroke-opacity="0.49"/>
<line x1="177.65" y1="357.60" x2="177.65" y2="366.20" stroke="#000" stroke-width="0.45" stroke-opacity="0.50"/>
<line x1="177.86" y1="357.60" x2="177.86" y2="366.20" stroke="#000" stroke-width="0.45" stroke-opacity="0.85"/>
<line x1="178.25" y1="357.60" x2="178.25" y2="366.20" stroke="#000" stroke-width="0.45" stroke-opacity="0.65"/>
<line x1="178.34" y1="357.60" x2="178.34" y2="366.20" stroke="#000" stroke-width="0.45" stroke-opacity="0.46"/>
<line x1="178.42" y1="357.60" x2="178.42" y2="366.20" stroke="#000" stroke-width="0.45" stroke-opacity="0.31"/>
<line x1="178.46" y1="357.60" x2="178.46" y2="366.20" stroke="#000" stroke-width="0.45" stroke-opacity="0.75"/>
<line x1="179.86" y1="357.60" x2="179.86" y2="366.20" stroke="#000" stroke-width="0.45" stroke-opacity="0.51"/>
<line x1="179.94" y1="357.60" x2="179.94" y2="366.20" stroke="#000" stroke-width="0.45" stroke-opacity="0.58"/>
<line x1="185.00" y1="357.60" x2="185.00" y2="366.20" stroke="#000" stroke-width="0.45" stroke-opacity="0.46"/>
<line x1="190.00" y1="357.60" x2="190.00" y2="366.20" stroke="#000" stroke-width="0.45" stroke-opacity="0.68"/>
<line x1="195.00" y1="357.60" x2="195.00" y2="366.20" stroke="#000" stroke-width="0.45" stroke-opacity="0.74"/>
<line x1="200.00" y1="357.60" x2="200.00" y2="366.20" stroke="#000" stroke-width="0.45" stroke-opacity="0.49"/>
<line x1="205.00" y1="357.60" x2="205.00" y2="366.20" stroke="#000" stroke-width="0.45" stroke-opacity="0.35"/>
<line x1="210.00" y1="357.60" x2="210.00" y2="366.20" stroke="#000" stroke-width="0.45" stroke-opacity="0.89"/>
<line x1="224.00" y1="357.60" x2="224.00" y2="366.20" stroke="#000" stroke-width="0.45" stroke-opacity="0.85"/>
<line x1="226.00" y1="357.60" x2="226.00" y2="366.20" stroke="#000" stroke-width="0.45" stroke-opacity="0.31"/>
<line x1="231.40" y1="357.60" x2="231.40" y2="366.20" stroke="#000" stroke-width="1.1"/>
<defs><linearGradient id="ge2" x1="0" x2="1" y1="0" y2="0"><stop offset="0.000" stop-color="#e8412e"/><stop offset="0.571" stop-color="#ec5a40"/><stop offset="0.593" stop-color="#f3a088"/><stop offset="0.702" stop-color="#fbe0d6"/><stop offset="0.734" stop-color="#ffffff"/><stop offset="0.832" stop-color="#ffffff"/><stop offset="0.865" stop-color="#a8c8e8"/><stop offset="1.000" stop-color="#3a78c0"/></linearGradient></defs>
<rect x="140.60" y="366.20" width="91.80" height="3.20" fill="url(#ge2)" stroke="none" stroke-width="0.5"/>
<text x="142.50" y="372.30" font-size="4.6" font-style="italic" fill="#333" stroke="#333" stroke-width="0.1">SOCS1<tspan font-size="2.9" dy="-1.7">lo</tspan><tspan dy="1.7">/SOCS3</tspan><tspan font-size="2.9" dy="-1.7">lo</tspan></text>
<text x="232.00" y="377.50" font-size="4.3" text-anchor="end" fill="#333" stroke="#333" stroke-width="0.1">Normal</text>
<rect x="140.60" y="369.40" width="91.80" height="19.10" fill="none" stroke="#bbb" stroke-width="0.35"/>
<line x1="156.90" y1="369.40" x2="156.90" y2="388.50" stroke="#eee" stroke-width="0.3"/>
<line x1="173.20" y1="369.40" x2="173.20" y2="388.50" stroke="#eee" stroke-width="0.3"/>
<line x1="189.50" y1="369.40" x2="189.50" y2="388.50" stroke="#eee" stroke-width="0.3"/>
<line x1="205.80" y1="369.40" x2="205.80" y2="388.50" stroke="#eee" stroke-width="0.3"/>
<line x1="222.10" y1="369.40" x2="222.10" y2="388.50" stroke="#eee" stroke-width="0.3"/>
<path d="M140.60,378.80 L140.60,374.00 L144.07,374.80 L147.54,375.21 L151.01,375.54 L154.48,375.83 L157.95,376.09 L161.42,376.33 L164.89,376.56 L168.36,376.77 L171.83,376.97 L175.30,377.17 L178.77,377.35 L182.24,377.53 L185.71,377.71 L189.18,377.88 L192.65,378.04 L196.12,378.20 L199.59,378.35 L203.06,378.51 L206.53,378.65 L210.00,378.80 L211.12,378.80 L212.24,378.81 L213.36,378.82 L214.48,378.83 L215.60,378.86 L216.72,378.88 L217.84,378.92 L218.96,378.96 L220.08,379.01 L221.20,379.06 L222.32,379.12 L223.44,379.19 L224.56,379.27 L225.68,379.35 L226.80,379.44 L227.92,379.53 L229.04,379.64 L230.16,379.75 L231.28,379.87 L232.40,380.00 L232.40,382.00 L232.40,378.80" stroke="none" stroke-width="0" fill="#bdbdbd"/>
<text x="138.80" y="370.40" font-size="4.0" text-anchor="end" fill="#333" stroke="#333" stroke-width="0.1">10</text>
<text x="138.80" y="373.70" font-size="4.0" text-anchor="end" fill="#333" stroke="#333" stroke-width="0.1">5</text>
<text x="138.80" y="378.00" font-size="4.0" text-anchor="end" fill="#333" stroke="#333" stroke-width="0.1">0</text>
<text x="138.80" y="381.80" font-size="4.0" text-anchor="end" fill="#333" stroke="#333" stroke-width="0.1">-5</text>
<text x="138.80" y="387.80" font-size="4.0" text-anchor="end" fill="#333" stroke="#333" stroke-width="0.1">-10</text>
<text x="156.90" y="393.60" font-size="4.6" text-anchor="middle" fill="#333" stroke="#333" stroke-width="0.1">1000</text>
<line x1="156.90" y1="388.50" x2="156.90" y2="389.50" stroke="#555" stroke-width="0.35"/>
<text x="173.20" y="393.60" font-size="4.6" text-anchor="middle" fill="#333" stroke="#333" stroke-width="0.1">2000</text>
<line x1="173.20" y1="388.50" x2="173.20" y2="389.50" stroke="#555" stroke-width="0.35"/>
<text x="189.50" y="393.60" font-size="4.6" text-anchor="middle" fill="#333" stroke="#333" stroke-width="0.1">3000</text>
<line x1="189.50" y1="388.50" x2="189.50" y2="389.50" stroke="#555" stroke-width="0.35"/>
<text x="205.80" y="393.60" font-size="4.6" text-anchor="middle" fill="#333" stroke="#333" stroke-width="0.1">4000</text>
<line x1="205.80" y1="388.50" x2="205.80" y2="389.50" stroke="#555" stroke-width="0.35"/>
<text x="222.10" y="393.60" font-size="4.6" text-anchor="middle" fill="#333" stroke="#333" stroke-width="0.1">5000</text>
<line x1="222.10" y1="388.50" x2="222.10" y2="389.50" stroke="#555" stroke-width="0.35"/>
<text x="207.30" y="11.70" font-size="12" font-weight="bold" fill="#000" stroke="#000" stroke-width="0.1">c</text>
<text x="207.40" y="175.00" font-size="12" font-weight="bold" fill="#000" stroke="#000" stroke-width="0.1">d</text>
<text x="5.60" y="322.20" font-size="12" font-weight="bold" fill="#000" stroke="#000" stroke-width="0.1">e</text>
<text x="283.80" y="324.20" font-size="5.2" text-anchor="middle" fill="#222" stroke="#222" stroke-width="0.1">Rank in Ordered Dataset</text>
<text x="127.20" y="402.40" font-size="5.2" text-anchor="middle" fill="#222" stroke="#222" stroke-width="0.1">Rank in Ordered Dataset</text>
<text x="238.80" y="331.60" font-size="12" font-weight="bold" fill="#000" stroke="#000" stroke-width="0.1">f</text>
<rect x="272.40" y="335.00" width="57.60" height="89.50" fill="none" stroke="#9a9a9a" stroke-width="0.5"/>
<text x="269.60" y="338.70" font-size="5.1" text-anchor="end" fill="#333" stroke="#333" stroke-width="0.1">0.40</text>
<line x1="270.40" y1="336.90" x2="272.40" y2="336.90" stroke="#555" stroke-width="0.4"/>
<text x="269.60" y="366.40" font-size="5.1" text-anchor="end" fill="#333" stroke="#333" stroke-width="0.1">0.35</text>
<line x1="270.40" y1="364.60" x2="272.40" y2="364.60" stroke="#555" stroke-width="0.4"/>
<text x="269.60" y="394.10" font-size="5.1" text-anchor="end" fill="#333" stroke="#333" stroke-width="0.1">0.30</text>
<line x1="270.40" y1="392.30" x2="272.40" y2="392.30" stroke="#555" stroke-width="0.4"/>
<text x="269.60" y="421.80" font-size="5.1" text-anchor="end" fill="#333" stroke="#333" stroke-width="0.1">0.25</text>
<line x1="270.40" y1="420.00" x2="272.40" y2="420.00" stroke="#555" stroke-width="0.4"/>
<text x="254.30" y="379.30" font-size="5.9" text-anchor="middle" fill="#333" transform="rotate(-90 254.3 379.3)" stroke="#333" stroke-width="0.1">Polonen_NRF2_ Signature Score</text>
<line x1="280.10" y1="374.20" x2="280.10" y2="380.40" stroke="#aaa" stroke-width="0.6"/>
<line x1="280.10" y1="389.70" x2="280.10" y2="396.00" stroke="#aaa" stroke-width="0.6"/>
<rect x="275.00" y="380.40" width="10.20" height="9.30" fill="#1e8c46" stroke="#666" stroke-width="0.3"/>
<line x1="275.00" y1="384.60" x2="285.20" y2="384.60" stroke="#222" stroke-width="0.35"/>
<circle cx="280.10" cy="384.60" r="0.95" fill="#000"/>
<line x1="280.10" y1="424.50" x2="280.10" y2="425.80" stroke="#777" stroke-width="0.4"/>
<line x1="293.80" y1="370.40" x2="293.80" y2="381.40" stroke="#aaa" stroke-width="0.6"/>
<line x1="293.80" y1="390.60" x2="293.80" y2="402.60" stroke="#aaa" stroke-width="0.6"/>
<rect x="288.70" y="381.40" width="10.20" height="9.20" fill="#e83a3c" stroke="#666" stroke-width="0.3"/>
<line x1="288.70" y1="386.50" x2="298.90" y2="386.50" stroke="#222" stroke-width="0.35"/>
<circle cx="293.80" cy="386.50" r="0.95" fill="#000"/>
<line x1="293.80" y1="424.50" x2="293.80" y2="425.80" stroke="#777" stroke-width="0.4"/>
<line x1="307.30" y1="374.80" x2="307.30" y2="387.00" stroke="#aaa" stroke-width="0.6"/>
<line x1="307.30" y1="398.80" x2="307.30" y2="412.00" stroke="#aaa" stroke-width="0.6"/>
<rect x="302.20" y="387.00" width="10.20" height="11.80" fill="#7033a0" stroke="#666" stroke-width="0.3"/>
<line x1="302.20" y1="393.10" x2="312.40" y2="393.10" stroke="#222" stroke-width="0.35"/>
<circle cx="307.30" cy="393.10" r="0.95" fill="#000"/>
<circle cx="307.30" cy="421.00" r="0.9" fill="#000"/>
<line x1="307.30" y1="424.50" x2="307.30" y2="425.80" stroke="#777" stroke-width="0.4"/>
<line x1="321.00" y1="375.00" x2="321.00" y2="386.10" stroke="#aaa" stroke-width="0.6"/>
<line x1="321.00" y1="395.60" x2="321.00" y2="409.60" stroke="#aaa" stroke-width="0.6"/>
<rect x="315.90" y="386.10" width="10.20" height="9.50" fill="#2e2d86" stroke="#666" stroke-width="0.3"/>
<line x1="315.90" y1="390.80" x2="326.10" y2="390.80" stroke="#222" stroke-width="0.35"/>
<circle cx="321.00" cy="390.80" r="0.95" fill="#000"/>
<line x1="321.00" y1="424.50" x2="321.00" y2="425.80" stroke="#777" stroke-width="0.4"/>
<path d="M280.30,340.40 L280.30,339.00 L321.30,339.00 L321.30,340.40" stroke="#555" stroke-width="0.45" fill="none"/>
<text x="288.20" y="339.20" font-size="4.4" fill="#222" stroke="#222" stroke-width="0.1">3.3 ×10<tspan font-size="2.8" dy="-1.8">−5</tspan></text>
<path d="M280.30,346.60 L280.30,345.20 L308.00,345.20 L308.00,346.60" stroke="#555" stroke-width="0.45" fill="none"/>
<text x="288.80" y="343.60" font-size="4.4" fill="#222" stroke="#222" stroke-width="0.1">2.6 ×10<tspan font-size="2.8" dy="-1.8">−2</tspan></text>
<path d="M308.00,351.60 L308.00,350.20 L320.60,350.20 L320.60,351.60" stroke="#555" stroke-width="0.45" fill="none"/>
<text x="309.10" y="349.00" font-size="4.4" fill="#222" stroke="#222" stroke-width="0.1">0.096</text>
<path d="M293.60,357.70 L293.60,356.30 L320.60,356.30 L320.60,357.70" stroke="#555" stroke-width="0.45" fill="none"/>
<text x="294.90" y="355.10" font-size="4.4" fill="#222" stroke="#222" stroke-width="0.1">0.0086</text>
<path d="M293.60,363.80 L293.60,362.40 L308.00,362.40 L308.00,363.80" stroke="#555" stroke-width="0.45" fill="none"/>
<text x="294.90" y="361.20" font-size="4.4" font-weight="bold" fill="#222" stroke="#222" stroke-width="0.1">3.6 ×10<tspan font-size="2.8" dy="-1.8">−6</tspan></text>
<path d="M280.30,369.60 L280.30,368.20 L294.20,368.20 L294.20,369.60" stroke="#555" stroke-width="0.45" fill="none"/>
<text x="283.00" y="366.20" font-size="4.4" fill="#222" stroke="#222" stroke-width="0.1">0.24</text>
<rect x="334.20" y="354.80" width="7.90" height="6.80" fill="#1e8c46" stroke="none" stroke-width="0.5"/>
<text x="345.00" y="357.80" font-size="5.2" font-style="italic" fill="#484848" stroke="#484848" stroke-width="0.1">SOCS1<tspan font-size="3.12" dy="-2.08">hi</tspan></text>
<text x="345.00" y="363.00" font-size="5.2" font-style="italic" fill="#484848" stroke="#484848" stroke-width="0.1">SOCS3<tspan font-size="3.12" dy="-2.08">hi</tspan></text>
<rect x="334.20" y="370.80" width="7.90" height="6.80" fill="#e83a3c" stroke="none" stroke-width="0.5"/>
<text x="345.00" y="373.80" font-size="5.2" font-style="italic" fill="#484848" stroke="#484848" stroke-width="0.1">SOCS1<tspan font-size="3.12" dy="-2.08">lo</tspan></text>
<text x="345.00" y="379.00" font-size="5.2" font-style="italic" fill="#484848" stroke="#484848" stroke-width="0.1">SOCS3<tspan font-size="3.12" dy="-2.08">hi</tspan></text>
<rect x="334.20" y="386.80" width="7.90" height="6.80" fill="#7033a0" stroke="none" stroke-width="0.5"/>
<text x="345.00" y="389.80" font-size="5.2" font-style="italic" fill="#484848" stroke="#484848" stroke-width="0.1">SOCS1<tspan font-size="3.12" dy="-2.08">hi</tspan></text>
<text x="345.00" y="395.00" font-size="5.2" font-style="italic" fill="#484848" stroke="#484848" stroke-width="0.1">SOCS3<tspan font-size="3.12" dy="-2.08">lo</tspan></text>
<rect x="334.20" y="402.50" width="7.90" height="6.80" fill="#2e2d86" stroke="none" stroke-width="0.5"/>
<text x="345.00" y="405.50" font-size="5.2" font-style="italic" fill="#484848" stroke="#484848" stroke-width="0.1">SOCS1<tspan font-size="3.12" dy="-2.08">lo</tspan></text>
<text x="345.00" y="410.70" font-size="5.2" font-style="italic" fill="#484848" stroke="#484848" stroke-width="0.1">SOCS3<tspan font-size="3.12" dy="-2.08">lo</tspan></text>
<text x="4.80" y="412.80" font-size="12" font-weight="bold" fill="#000" stroke="#000" stroke-width="0.1">g</text>
<line x1="33.20" y1="420.50" x2="33.20" y2="497.30" stroke="#555" stroke-width="0.45"/>
<line x1="33.20" y1="497.30" x2="126.20" y2="497.30" stroke="#555" stroke-width="0.45"/>
<text x="29.60" y="425.90" font-size="5.4" text-anchor="end" fill="#333" stroke="#333" stroke-width="0.1">1.00</text>
<line x1="31.30" y1="424.00" x2="33.20" y2="424.00" stroke="#555" stroke-width="0.4"/>
<text x="29.60" y="443.40" font-size="5.4" text-anchor="end" fill="#333" stroke="#333" stroke-width="0.1">0.75</text>
<line x1="31.30" y1="441.50" x2="33.20" y2="441.50" stroke="#555" stroke-width="0.4"/>
<text x="29.60" y="460.90" font-size="5.4" text-anchor="end" fill="#333" stroke="#333" stroke-width="0.1">0.50</text>
<line x1="31.30" y1="459.00" x2="33.20" y2="459.00" stroke="#555" stroke-width="0.4"/>
<text x="29.60" y="478.50" font-size="5.4" text-anchor="end" fill="#333" stroke="#333" stroke-width="0.1">0.25</text>
<line x1="31.30" y1="476.60" x2="33.20" y2="476.60" stroke="#555" stroke-width="0.4"/>
<text x="29.60" y="496.30" font-size="5.4" text-anchor="end" fill="#333" stroke="#333" stroke-width="0.1">0.00</text>
<line x1="31.30" y1="494.40" x2="33.20" y2="494.40" stroke="#555" stroke-width="0.4"/>
<text x="14.20" y="461.40" font-size="6.4" text-anchor="middle" fill="#333" transform="rotate(-90 14.2 461.4)" stroke="#333" stroke-width="0.1">Progression−free status</text>
<line x1="36.10" y1="497.30" x2="36.10" y2="498.60" stroke="#555" stroke-width="0.4"/>
<line x1="50.48" y1="497.30" x2="50.48" y2="498.60" stroke="#555" stroke-width="0.4"/>
<line x1="64.86" y1="497.30" x2="64.86" y2="498.60" stroke="#555" stroke-width="0.4"/>
<line x1="79.24" y1="497.30" x2="79.24" y2="498.60" stroke="#555" stroke-width="0.4"/>
<line x1="93.62" y1="497.30" x2="93.62" y2="498.60" stroke="#555" stroke-width="0.4"/>
<line x1="108.00" y1="497.30" x2="108.00" y2="498.60" stroke="#555" stroke-width="0.4"/>
<line x1="122.38" y1="497.30" x2="122.38" y2="498.60" stroke="#555" stroke-width="0.4"/>
<path d="M37.00,423.80 L39.50,423.80 L39.50,427.70 L41.10,427.70 L41.10,430.20 L42.70,430.20 L42.70,435.80 L44.70,435.80 L44.70,439.90 L46.00,439.90 L46.00,444.00 L48.40,444.00 L48.40,447.20 L50.80,447.20 L50.80,450.40 L53.30,450.40 L53.30,452.90 L57.30,452.90 L57.30,456.10 L60.00,456.10 L60.00,458.90 L63.80,458.90 L63.80,463.60 L78.50,463.60 L78.50,468.40 L86.10,468.40 L86.10,473.10 L113.90,473.10 L113.90,473.10" stroke="#2a9a52" stroke-width="1.05" fill="none"/>
<path d="M37.00,423.80 L39.50,423.80 L39.50,431.00 L41.90,431.00 L41.90,440.70 L43.50,440.70 L43.50,445.60 L45.20,445.60 L45.20,450.40 L45.60,450.40 L45.60,456.10 L48.40,456.10 L48.40,456.90 L50.80,456.90 L50.80,459.40 L52.50,459.40 L52.50,461.80 L57.00,461.80 L57.00,465.00 L59.00,465.00 L59.00,466.60 L59.80,466.60 L59.80,475.00 L67.20,475.00 L67.20,484.50 L87.10,484.50 L87.10,493.90" stroke="#f05a5a" stroke-width="1.05" fill="none"/>
<path d="M37.00,423.80 L39.20,423.80 L39.20,432.60 L41.10,432.60 L41.10,440.70 L43.50,440.70 L43.50,447.20 L46.00,447.20 L46.00,452.90 L49.20,452.90 L49.20,457.70 L52.50,457.70 L52.50,461.80 L57.30,461.80 L57.30,465.80 L62.20,465.80 L62.20,469.90 L67.60,469.90 L67.60,471.20 L73.20,471.20 L73.20,472.20 L75.10,472.20 L75.10,474.00 L77.00,474.00 L77.00,476.00 L123.40,476.00 L123.40,476.00" stroke="#7a3fb4" stroke-width="1.1" fill="none" stroke-dasharray="1.4,0.3"/>
<path d="M37.00,423.80 L40.30,423.80 L40.30,427.70 L42.70,427.70 L42.70,434.20 L45.20,434.20 L45.20,440.70 L47.60,440.70 L47.60,444.00 L50.00,444.00 L50.00,446.40 L50.50,446.40 L50.50,447.60 L62.30,447.60 L62.30,450.40 L66.00,450.40 L66.00,454.20 L69.50,454.20 L69.50,458.00 L71.40,458.00 L71.40,464.60 L72.90,464.60 L72.90,471.20 L95.90,471.20 L95.90,471.20" stroke="#3b3a9c" stroke-width="1.05" fill="none"/>
<line x1="52.00" y1="445.60" x2="52.00" y2="447.20" stroke="#3b3a9c" stroke-width="0.35"/>
<line x1="54.00" y1="445.60" x2="54.00" y2="447.20" stroke="#3b3a9c" stroke-width="0.35"/>
<line x1="56.00" y1="445.60" x2="56.00" y2="447.20" stroke="#3b3a9c" stroke-width="0.35"/>
<line x1="58.00" y1="445.60" x2="58.00" y2="447.20" stroke="#3b3a9c" stroke-width="0.35"/>
<line x1="60.00" y1="445.60" x2="60.00" y2="447.20" stroke="#3b3a9c" stroke-width="0.35"/>
<line x1="80.00" y1="470.40" x2="80.00" y2="472.00" stroke="#3b3a9c" stroke-width="0.35"/>
<line x1="83.00" y1="470.40" x2="83.00" y2="472.00" stroke="#3b3a9c" stroke-width="0.35"/>
<line x1="86.00" y1="470.40" x2="86.00" y2="472.00" stroke="#3b3a9c" stroke-width="0.35"/>
<line x1="89.00" y1="470.40" x2="89.00" y2="472.00" stroke="#3b3a9c" stroke-width="0.35"/>
<line x1="92.00" y1="470.40" x2="92.00" y2="472.00" stroke="#3b3a9c" stroke-width="0.35"/>
<text x="38.4" y="488.6" font-size="5.2" font-weight="bold" font-style="italic" fill="#111" stroke="#111" stroke-width="0.1">p = 0.034</text>
<line x1="111.00" y1="426.50" x2="120.20" y2="426.50" stroke="#2a9a52" stroke-width="1.3"/>
<text x="123.7" y="428.50" font-size="5.8" font-style="italic" fill="#333" stroke="#333" stroke-width="0.1">SOCS1<tspan font-size="3.4" dy="-2.0">hi</tspan><tspan dy="2.0">/SOCS3</tspan><tspan font-size="3.4" dy="-2.0">hi</tspan></text>
<line x1="111.00" y1="436.40" x2="120.20" y2="436.40" stroke="#f05a5a" stroke-width="1.3"/>
<text x="123.7" y="438.40" font-size="5.8" font-style="italic" fill="#333" stroke="#333" stroke-width="0.1">SOCS1<tspan font-size="3.4" dy="-2.0">lo</tspan><tspan dy="2.0">/SOCS3</tspan><tspan font-size="3.4" dy="-2.0">hi</tspan></text>
<line x1="111.00" y1="446.50" x2="120.20" y2="446.50" stroke="#7a3fb4" stroke-width="1.3"/>
<text x="123.7" y="448.50" font-size="5.8" font-style="italic" fill="#333" stroke="#333" stroke-width="0.1">SOCS1<tspan font-size="3.4" dy="-2.0">hi</tspan><tspan dy="2.0">/SOCS3</tspan><tspan font-size="3.4" dy="-2.0">lo</tspan></text>
<line x1="111.00" y1="456.40" x2="120.20" y2="456.40" stroke="#3b3a9c" stroke-width="1.3"/>
<text x="123.7" y="458.40" font-size="5.8" font-style="italic" fill="#333" stroke="#333" stroke-width="0.1">SOCS1<tspan font-size="3.4" dy="-2.0">lo</tspan><tspan dy="2.0">/SOCS3</tspan><tspan font-size="3.4" dy="-2.0">lo</tspan></text>
<text x="34.60" y="505.00" font-size="5.4" fill="#222" stroke="#222" stroke-width="0.1">Number at risk</text>
<line x1="33.60" y1="508.80" x2="33.60" y2="529.40" stroke="#555" stroke-width="0.45"/>
<line x1="33.60" y1="529.40" x2="126.20" y2="529.40" stroke="#555" stroke-width="0.45"/>
<line x1="21.20" y1="510.60" x2="30.40" y2="510.60" stroke="#7a3fb4" stroke-width="1.0"/>
<text x="38.30" y="512.20" font-size="4.6" text-anchor="middle" fill="#222" stroke="#222" stroke-width="0.1">224</text>
<text x="52.32" y="512.20" font-size="4.6" text-anchor="middle" fill="#222" stroke="#222" stroke-width="0.1">59</text>
<text x="66.34" y="512.20" font-size="4.6" text-anchor="middle" fill="#222" stroke="#222" stroke-width="0.1">27</text>
<text x="80.36" y="512.20" font-size="4.6" text-anchor="middle" fill="#222" stroke="#222" stroke-width="0.1">9</text>
<text x="94.38" y="512.20" font-size="4.6" text-anchor="middle" fill="#222" stroke="#222" stroke-width="0.1">2</text>
<text x="108.40" y="512.20" font-size="4.6" text-anchor="middle" fill="#222" stroke="#222" stroke-width="0.1">2</text>
<text x="122.42" y="512.20" font-size="4.6" text-anchor="middle" fill="#222" stroke="#222" stroke-width="0.1">1</text>
<line x1="21.20" y1="515.80" x2="30.40" y2="515.80" stroke="#f05a5a" stroke-width="1.0"/>
<text x="38.30" y="517.40" font-size="4.6" text-anchor="middle" fill="#222" stroke="#222" stroke-width="0.1">40</text>
<text x="52.32" y="517.40" font-size="4.6" text-anchor="middle" fill="#222" stroke="#222" stroke-width="0.1">11</text>
<text x="66.34" y="517.40" font-size="4.6" text-anchor="middle" fill="#222" stroke="#222" stroke-width="0.1">3</text>
<text x="80.36" y="517.40" font-size="4.6" text-anchor="middle" fill="#222" stroke="#222" stroke-width="0.1">1</text>
<text x="94.38" y="517.40" font-size="4.6" text-anchor="middle" fill="#222" stroke="#222" stroke-width="0.1">0</text>
<text x="108.40" y="517.40" font-size="4.6" text-anchor="middle" fill="#222" stroke="#222" stroke-width="0.1">0</text>
<text x="122.42" y="517.40" font-size="4.6" text-anchor="middle" fill="#222" stroke="#222" stroke-width="0.1">0</text>
<line x1="21.20" y1="521.10" x2="30.40" y2="521.10" stroke="#3b3a9c" stroke-width="1.0"/>
<text x="38.30" y="522.70" font-size="4.6" text-anchor="middle" fill="#222" stroke="#222" stroke-width="0.1">46</text>
<text x="52.32" y="522.70" font-size="4.6" text-anchor="middle" fill="#222" stroke="#222" stroke-width="0.1">19</text>
<text x="66.34" y="522.70" font-size="4.6" text-anchor="middle" fill="#222" stroke="#222" stroke-width="0.1">7</text>
<text x="80.36" y="522.70" font-size="4.6" text-anchor="middle" fill="#222" stroke="#222" stroke-width="0.1">3</text>
<text x="94.38" y="522.70" font-size="4.6" text-anchor="middle" fill="#222" stroke="#222" stroke-width="0.1">1</text>
<text x="108.40" y="522.70" font-size="4.6" text-anchor="middle" fill="#222" stroke="#222" stroke-width="0.1">0</text>
<text x="122.42" y="522.70" font-size="4.6" text-anchor="middle" fill="#222" stroke="#222" stroke-width="0.1">0</text>
<line x1="21.20" y1="526.30" x2="30.40" y2="526.30" stroke="#2a9a52" stroke-width="1.0"/>
<text x="38.30" y="527.90" font-size="4.6" text-anchor="middle" fill="#222" stroke="#222" stroke-width="0.1">55</text>
<text x="52.32" y="527.90" font-size="4.6" text-anchor="middle" fill="#222" stroke="#222" stroke-width="0.1">18</text>
<text x="66.34" y="527.90" font-size="4.6" text-anchor="middle" fill="#222" stroke="#222" stroke-width="0.1">9</text>
<text x="80.36" y="527.90" font-size="4.6" text-anchor="middle" fill="#222" stroke="#222" stroke-width="0.1">5</text>
<text x="94.38" y="527.90" font-size="4.6" text-anchor="middle" fill="#222" stroke="#222" stroke-width="0.1">3</text>
<text x="108.40" y="527.90" font-size="4.6" text-anchor="middle" fill="#222" stroke="#222" stroke-width="0.1">1</text>
<text x="122.42" y="527.90" font-size="4.6" text-anchor="middle" fill="#222" stroke="#222" stroke-width="0.1">0</text>
<line x1="36.10" y1="529.40" x2="36.10" y2="530.60" stroke="#555" stroke-width="0.4"/>
<text x="36.10" y="537.00" font-size="5.4" text-anchor="middle" fill="#222" stroke="#222" stroke-width="0.1">0</text>
<line x1="50.48" y1="529.40" x2="50.48" y2="530.60" stroke="#555" stroke-width="0.4"/>
<text x="50.48" y="537.00" font-size="5.4" text-anchor="middle" fill="#222" stroke="#222" stroke-width="0.1">20</text>
<line x1="64.86" y1="529.40" x2="64.86" y2="530.60" stroke="#555" stroke-width="0.4"/>
<text x="64.86" y="537.00" font-size="5.4" text-anchor="middle" fill="#222" stroke="#222" stroke-width="0.1">40</text>
<line x1="79.24" y1="529.40" x2="79.24" y2="530.60" stroke="#555" stroke-width="0.4"/>
<text x="79.24" y="537.00" font-size="5.4" text-anchor="middle" fill="#222" stroke="#222" stroke-width="0.1">60</text>
<line x1="93.62" y1="529.40" x2="93.62" y2="530.60" stroke="#555" stroke-width="0.4"/>
<text x="93.62" y="537.00" font-size="5.4" text-anchor="middle" fill="#222" stroke="#222" stroke-width="0.1">80</text>
<line x1="108.00" y1="529.40" x2="108.00" y2="530.60" stroke="#555" stroke-width="0.4"/>
<text x="108.00" y="537.00" font-size="5.4" text-anchor="middle" fill="#222" stroke="#222" stroke-width="0.1">100</text>
<line x1="122.38" y1="529.40" x2="122.38" y2="530.60" stroke="#555" stroke-width="0.4"/>
<text x="122.38" y="537.00" font-size="5.4" text-anchor="middle" fill="#222" stroke="#222" stroke-width="0.1">120</text>
<text x="82.20" y="543.90" font-size="6.4" text-anchor="middle" fill="#222" stroke="#222" stroke-width="0.1">Months</text>
<text x="190.20" y="439.20" font-size="12" font-weight="bold" fill="#000" stroke="#000" stroke-width="0.1">h</text>
<text x="203.90" y="443.80" font-size="5.7" font-weight="bold" fill="#111" stroke="#111" stroke-width="0.1">Group</text>
<text x="281.50" y="444.00" font-size="5.8" text-anchor="middle" font-weight="bold" fill="#111" stroke="#111" stroke-width="0.1">Hazard Ratio</text>
<text x="333.0" y="444.0" font-size="5.5" font-weight="bold" fill="#111" stroke="#111" stroke-width="0.1"><tspan font-style="italic">p</tspan> value</text>
<rect x="200.70" y="448.50" width="135.20" height="19.00" fill="#ffffff" stroke="#8a8a8a" stroke-width="0.4"/>
<rect x="200.70" y="471.70" width="135.20" height="18.80" fill="#bdbdbd" stroke="#8a8a8a" stroke-width="0.4"/>
<rect x="200.70" y="494.10" width="135.20" height="18.30" fill="#ffffff" stroke="#8a8a8a" stroke-width="0.4"/>
<rect x="200.70" y="516.60" width="135.20" height="19.10" fill="#bdbdbd" stroke="#8a8a8a" stroke-width="0.4"/>
<line x1="259.80" y1="448.50" x2="259.80" y2="467.50" stroke="#555" stroke-width="0.4"/>
<line x1="298.70" y1="448.50" x2="298.70" y2="467.50" stroke="#555" stroke-width="0.35"/>
<line x1="308.40" y1="448.50" x2="308.40" y2="467.50" stroke="#555" stroke-width="0.35"/>
<line x1="316.20" y1="448.50" x2="316.20" y2="467.50" stroke="#555" stroke-width="0.35"/>
<line x1="323.20" y1="448.50" x2="323.20" y2="467.50" stroke="#555" stroke-width="0.35"/>
<line x1="328.30" y1="448.50" x2="328.30" y2="467.50" stroke="#555" stroke-width="0.35"/>
<line x1="259.80" y1="471.70" x2="259.80" y2="490.50" stroke="#555" stroke-width="0.4"/>
<line x1="298.70" y1="471.70" x2="298.70" y2="490.50" stroke="#555" stroke-width="0.35"/>
<line x1="308.40" y1="471.70" x2="308.40" y2="490.50" stroke="#555" stroke-width="0.35"/>
<line x1="316.20" y1="471.70" x2="316.20" y2="490.50" stroke="#555" stroke-width="0.35"/>
<line x1="323.20" y1="471.70" x2="323.20" y2="490.50" stroke="#555" stroke-width="0.35"/>
<line x1="328.30" y1="471.70" x2="328.30" y2="490.50" stroke="#555" stroke-width="0.35"/>
<line x1="259.80" y1="494.10" x2="259.80" y2="512.40" stroke="#555" stroke-width="0.4"/>
<line x1="298.70" y1="494.10" x2="298.70" y2="512.40" stroke="#555" stroke-width="0.35"/>
<line x1="308.40" y1="494.10" x2="308.40" y2="512.40" stroke="#555" stroke-width="0.35"/>
<line x1="316.20" y1="494.10" x2="316.20" y2="512.40" stroke="#555" stroke-width="0.35"/>
<line x1="323.20" y1="494.10" x2="323.20" y2="512.40" stroke="#555" stroke-width="0.35"/>
<line x1="328.30" y1="494.10" x2="328.30" y2="512.40" stroke="#555" stroke-width="0.35"/>
<line x1="259.80" y1="516.60" x2="259.80" y2="535.70" stroke="#555" stroke-width="0.4"/>
<line x1="298.70" y1="516.60" x2="298.70" y2="535.70" stroke="#555" stroke-width="0.35"/>
<line x1="308.40" y1="516.60" x2="308.40" y2="535.70" stroke="#555" stroke-width="0.35"/>
<line x1="316.20" y1="516.60" x2="316.20" y2="535.70" stroke="#555" stroke-width="0.35"/>
<line x1="323.20" y1="516.60" x2="323.20" y2="535.70" stroke="#555" stroke-width="0.35"/>
<line x1="328.30" y1="516.60" x2="328.30" y2="535.70" stroke="#555" stroke-width="0.35"/>
<line x1="284.60" y1="448.50" x2="284.60" y2="537.00" stroke="#000" stroke-width="0.8"/>
<text x="259.40" y="543.40" font-size="5.0" text-anchor="middle" fill="#222" stroke="#222" stroke-width="0.1">0.5</text>
<text x="284.20" y="543.40" font-size="5.0" text-anchor="middle" fill="#222" stroke="#222" stroke-width="0.1">1</text>
<text x="299.00" y="543.40" font-size="5.0" text-anchor="middle" fill="#222" stroke="#222" stroke-width="0.1">1.5</text>
<text x="308.60" y="543.40" font-size="5.0" text-anchor="middle" fill="#222" stroke="#222" stroke-width="0.1">2</text>
<text x="317.60" y="543.40" font-size="5.0" text-anchor="middle" fill="#222" stroke="#222" stroke-width="0.1">2.5</text>
<text x="329.10" y="543.40" font-size="5.0" text-anchor="middle" fill="#222" stroke="#222" stroke-width="0.1">3.5</text>
<text x="202.30" y="453.80" font-size="5.2" font-style="italic" fill="#333" stroke="#333" stroke-width="0.1">SOCS1<tspan font-size="3.12" dy="-2.08">hi</tspan></text>
<text x="202.30" y="459.30" font-size="5.2" font-style="italic" fill="#333" stroke="#333" stroke-width="0.1">SOCS3<tspan font-size="3.12" dy="-2.08">hi</tspan></text>
<text x="202.30" y="464.70" font-size="4.9" fill="#333" stroke="#333" stroke-width="0.1">(N=55)</text>
<text x="202.30" y="477.00" font-size="5.2" font-style="italic" fill="#333" stroke="#333" stroke-width="0.1">SOCS1<tspan font-size="3.12" dy="-2.08">lo</tspan></text>
<text x="202.30" y="482.50" font-size="5.2" font-style="italic" fill="#333" stroke="#333" stroke-width="0.1">SOCS3<tspan font-size="3.12" dy="-2.08">hi</tspan></text>
<text x="202.30" y="487.90" font-size="4.9" fill="#333" stroke="#333" stroke-width="0.1">(N=40)</text>
<text x="202.30" y="499.40" font-size="5.2" font-style="italic" fill="#333" stroke="#333" stroke-width="0.1">SOCS1<tspan font-size="3.12" dy="-2.08">hi</tspan></text>
<text x="202.30" y="504.90" font-size="5.2" font-style="italic" fill="#333" stroke="#333" stroke-width="0.1">SOCS3<tspan font-size="3.12" dy="-2.08">lo</tspan></text>
<text x="202.30" y="510.30" font-size="4.9" fill="#333" stroke="#333" stroke-width="0.1">(N=224)</text>
<text x="202.30" y="521.90" font-size="5.2" font-style="italic" fill="#333" stroke="#333" stroke-width="0.1">SOCS1<tspan font-size="3.12" dy="-2.08">lo</tspan></text>
<text x="202.30" y="527.40" font-size="5.2" font-style="italic" fill="#333" stroke="#333" stroke-width="0.1">SOCS3<tspan font-size="3.12" dy="-2.08">lo</tspan></text>
<text x="202.30" y="532.80" font-size="4.9" fill="#333" stroke="#333" stroke-width="0.1">(N=47)</text>
<text x="240.60" y="459.70" font-size="5.0" text-anchor="middle" fill="#333" stroke="#333" stroke-width="0.1">reference</text>
<text x="242.50" y="479.00" font-size="5.6" text-anchor="middle" font-weight="bold" fill="#111" stroke="#111" stroke-width="0.1">1.8</text>
<text x="242.10" y="484.70" font-size="5.2" text-anchor="middle" font-style="italic" fill="#333" stroke="#333" stroke-width="0.1">(0.99 – 3.3)</text>
<text x="242.50" y="501.40" font-size="5.6" text-anchor="middle" font-weight="bold" fill="#111" stroke="#111" stroke-width="0.1">1.53</text>
<text x="242.10" y="507.10" font-size="5.2" text-anchor="middle" font-style="italic" fill="#333" stroke="#333" stroke-width="0.1">(0.98– 2.4)</text>
<text x="242.50" y="523.90" font-size="5.6" text-anchor="middle" fill="#111" stroke="#111" stroke-width="0.1">0.88</text>
<text x="242.10" y="529.60" font-size="5.2" text-anchor="middle" font-style="italic" fill="#333" stroke="#333" stroke-width="0.1">(0.47 – 1.6)</text>
<line x1="285.40" y1="480.50" x2="325.80" y2="480.50" stroke="#666" stroke-width="0.45"/>
<line x1="325.80" y1="479.70" x2="325.80" y2="481.30" stroke="#666" stroke-width="0.45"/>
<line x1="285.40" y1="479.70" x2="285.40" y2="481.30" stroke="#666" stroke-width="0.45"/>
<rect x="302.50" y="478.00" width="5.00" height="5.00" fill="#000" stroke="none" stroke-width="0.5"/>
<line x1="285.00" y1="505.20" x2="316.20" y2="505.20" stroke="#666" stroke-width="0.45"/>
<line x1="316.20" y1="504.40" x2="316.20" y2="506.00" stroke="#666" stroke-width="0.45"/>
<line x1="285.00" y1="504.40" x2="285.00" y2="506.00" stroke="#666" stroke-width="0.45"/>
<rect x="298.90" y="502.70" width="5.00" height="5.00" fill="#000" stroke="none" stroke-width="0.5"/>
<line x1="257.80" y1="524.50" x2="300.80" y2="524.50" stroke="#666" stroke-width="0.45"/>
<line x1="300.80" y1="523.70" x2="300.80" y2="525.30" stroke="#666" stroke-width="0.45"/>
<line x1="257.80" y1="523.70" x2="257.80" y2="525.30" stroke="#666" stroke-width="0.45"/>
<rect x="276.30" y="522.00" width="5.00" height="5.00" fill="#000" stroke="none" stroke-width="0.5"/>
<rect x="282.20" y="456.10" width="5.00" height="5.00" fill="#000" stroke="none" stroke-width="0.5"/>
<text x="338.20" y="482.40" font-size="4.8" font-style="italic" fill="#222" stroke="#222" stroke-width="0.1">0.053</text>
<text x="338.20" y="502.90" font-size="4.8" font-style="italic" fill="#222" stroke="#222" stroke-width="0.1">0.062</text>
<text x="338.20" y="526.60" font-size="4.8" font-style="italic" fill="#222" stroke="#222" stroke-width="0.1">0.689</text>
</svg>
</body></html>
